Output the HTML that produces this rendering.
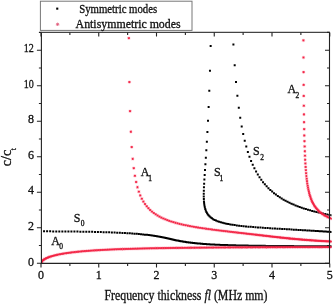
<!DOCTYPE html>
<html><head><meta charset="utf-8"><style>
html,body{margin:0;padding:0;background:#fff;overflow:hidden}
svg{display:block}
text{font-family:"Liberation Serif","DejaVu Serif",serif;fill:#111;stroke:#111;stroke-width:0.3px}
</style></head><body>
<svg width="333" height="304" viewBox="0 0 333 304">
<rect width="333" height="304" fill="#fff"/>
<defs><clipPath id="cp"><rect x="41.4" y="29.4" width="290.1" height="233.99999999999997"/></clipPath>
</defs>
<g clip-path="url(#cp)">
<path d="M43.06,230.35h2.0v2.0h-2.0zM46.11,230.36h2.0v2.0h-2.0zM49.17,230.37h2.0v2.0h-2.0zM52.22,230.38h2.0v2.0h-2.0zM55.27,230.39h2.0v2.0h-2.0zM58.31,230.41h2.0v2.0h-2.0zM61.35,230.43h2.0v2.0h-2.0zM64.38,230.46h2.0v2.0h-2.0zM209.65,44.91h2.0v2.0h-2.0zM67.41,230.49h2.0v2.0h-2.0zM208.96,69.85h2.0v2.0h-2.0zM232.41,43.60h2.0v2.0h-2.0zM70.42,230.52h2.0v2.0h-2.0zM208.29,89.79h2.0v2.0h-2.0zM233.69,64.15h2.0v2.0h-2.0zM73.42,230.55h2.0v2.0h-2.0zM207.63,106.08h2.0v2.0h-2.0zM235.02,80.93h2.0v2.0h-2.0zM76.42,230.59h2.0v2.0h-2.0zM207.01,119.63h2.0v2.0h-2.0zM236.39,94.87h2.0v2.0h-2.0zM79.39,230.64h2.0v2.0h-2.0zM206.41,131.08h2.0v2.0h-2.0zM237.80,106.65h2.0v2.0h-2.0zM82.36,230.68h2.0v2.0h-2.0zM205.85,140.86h2.0v2.0h-2.0zM239.23,116.71h2.0v2.0h-2.0zM85.31,230.73h2.0v2.0h-2.0zM205.33,149.32h2.0v2.0h-2.0zM240.70,125.41h2.0v2.0h-2.0zM88.24,230.79h2.0v2.0h-2.0zM204.84,156.69h2.0v2.0h-2.0zM242.20,133.01h2.0v2.0h-2.0zM91.16,230.85h2.0v2.0h-2.0zM204.41,163.16h2.0v2.0h-2.0zM243.73,139.69h2.0v2.0h-2.0zM94.05,230.92h2.0v2.0h-2.0zM204.01,168.89h2.0v2.0h-2.0zM245.28,145.62h2.0v2.0h-2.0zM96.92,230.99h2.0v2.0h-2.0zM203.67,174.00h2.0v2.0h-2.0zM246.86,150.91h2.0v2.0h-2.0zM99.77,231.06h2.0v2.0h-2.0zM203.38,178.56h2.0v2.0h-2.0zM248.46,155.66h2.0v2.0h-2.0zM102.59,231.15h2.0v2.0h-2.0zM203.14,182.67h2.0v2.0h-2.0zM250.09,159.94h2.0v2.0h-2.0zM105.39,231.23h2.0v2.0h-2.0zM202.95,186.37h2.0v2.0h-2.0zM251.73,163.83h2.0v2.0h-2.0zM108.15,231.33h2.0v2.0h-2.0zM202.83,189.73h2.0v2.0h-2.0zM253.40,167.36h2.0v2.0h-2.0zM110.88,231.43h2.0v2.0h-2.0zM202.76,192.78h2.0v2.0h-2.0zM255.09,170.60h2.0v2.0h-2.0zM113.57,231.53h2.0v2.0h-2.0zM202.76,195.56h2.0v2.0h-2.0zM256.80,173.56h2.0v2.0h-2.0zM116.23,231.65h2.0v2.0h-2.0zM202.83,198.10h2.0v2.0h-2.0zM258.53,176.30h2.0v2.0h-2.0zM118.84,231.77h2.0v2.0h-2.0zM202.96,200.43h2.0v2.0h-2.0zM260.28,178.82h2.0v2.0h-2.0zM121.41,231.89h2.0v2.0h-2.0zM203.17,202.56h2.0v2.0h-2.0zM262.05,181.15h2.0v2.0h-2.0zM123.93,232.03h2.0v2.0h-2.0zM203.45,204.52h2.0v2.0h-2.0zM263.84,183.32h2.0v2.0h-2.0zM126.41,232.18h2.0v2.0h-2.0zM203.81,206.32h2.0v2.0h-2.0zM265.64,185.33h2.0v2.0h-2.0zM128.82,232.33h2.0v2.0h-2.0zM204.25,207.99h2.0v2.0h-2.0zM267.46,187.21h2.0v2.0h-2.0zM131.19,232.49h2.0v2.0h-2.0zM204.78,209.51h2.0v2.0h-2.0zM269.30,188.97h2.0v2.0h-2.0zM133.49,232.66h2.0v2.0h-2.0zM205.38,210.93h2.0v2.0h-2.0zM271.16,190.62h2.0v2.0h-2.0zM135.74,232.84h2.0v2.0h-2.0zM206.08,212.23h2.0v2.0h-2.0zM273.03,192.16h2.0v2.0h-2.0zM137.91,233.02h2.0v2.0h-2.0zM206.87,213.43h2.0v2.0h-2.0zM274.91,193.61h2.0v2.0h-2.0zM140.03,233.22h2.0v2.0h-2.0zM207.75,214.53h2.0v2.0h-2.0zM276.81,194.98h2.0v2.0h-2.0zM142.07,233.42h2.0v2.0h-2.0zM208.72,215.55h2.0v2.0h-2.0zM278.73,196.27h2.0v2.0h-2.0zM144.05,233.63h2.0v2.0h-2.0zM209.79,216.50h2.0v2.0h-2.0zM280.66,197.49h2.0v2.0h-2.0zM145.95,233.85h2.0v2.0h-2.0zM210.95,217.37h2.0v2.0h-2.0zM282.61,198.64h2.0v2.0h-2.0zM147.79,234.08h2.0v2.0h-2.0zM212.21,218.17h2.0v2.0h-2.0zM284.57,199.73h2.0v2.0h-2.0zM149.55,234.31h2.0v2.0h-2.0zM213.56,218.91h2.0v2.0h-2.0zM286.54,200.76h2.0v2.0h-2.0zM151.25,234.55h2.0v2.0h-2.0zM215.00,219.59h2.0v2.0h-2.0zM288.53,201.74h2.0v2.0h-2.0zM152.88,234.79h2.0v2.0h-2.0zM216.53,220.22h2.0v2.0h-2.0zM290.53,202.67h2.0v2.0h-2.0zM154.44,235.04h2.0v2.0h-2.0zM218.15,220.80h2.0v2.0h-2.0zM292.54,203.56h2.0v2.0h-2.0zM155.95,235.29h2.0v2.0h-2.0zM219.84,221.33h2.0v2.0h-2.0zM294.56,204.40h2.0v2.0h-2.0zM157.39,235.55h2.0v2.0h-2.0zM221.62,221.83h2.0v2.0h-2.0zM296.60,205.21h2.0v2.0h-2.0zM158.79,235.81h2.0v2.0h-2.0zM223.47,222.28h2.0v2.0h-2.0zM298.65,205.97h2.0v2.0h-2.0zM160.13,236.08h2.0v2.0h-2.0zM225.39,222.71h2.0v2.0h-2.0zM300.71,206.71h2.0v2.0h-2.0zM161.42,236.34h2.0v2.0h-2.0zM227.38,223.10h2.0v2.0h-2.0zM302.78,207.41h2.0v2.0h-2.0zM162.67,236.60h2.0v2.0h-2.0zM229.42,223.46h2.0v2.0h-2.0zM304.87,208.08h2.0v2.0h-2.0zM163.88,236.86h2.0v2.0h-2.0zM231.53,223.80h2.0v2.0h-2.0zM306.96,208.72h2.0v2.0h-2.0zM165.06,237.11h2.0v2.0h-2.0zM233.68,224.12h2.0v2.0h-2.0zM309.07,209.34h2.0v2.0h-2.0zM166.20,237.36h2.0v2.0h-2.0zM235.87,224.41h2.0v2.0h-2.0zM311.19,209.92h2.0v2.0h-2.0zM167.32,237.61h2.0v2.0h-2.0zM238.11,224.69h2.0v2.0h-2.0zM313.32,210.49h2.0v2.0h-2.0zM168.42,237.85h2.0v2.0h-2.0zM240.38,224.95h2.0v2.0h-2.0zM315.46,211.03h2.0v2.0h-2.0zM169.49,238.09h2.0v2.0h-2.0zM242.69,225.20h2.0v2.0h-2.0zM317.60,211.56h2.0v2.0h-2.0zM170.55,238.33h2.0v2.0h-2.0zM245.02,225.43h2.0v2.0h-2.0zM319.76,212.06h2.0v2.0h-2.0zM171.59,238.55h2.0v2.0h-2.0zM247.38,225.65h2.0v2.0h-2.0zM321.93,212.54h2.0v2.0h-2.0zM172.62,238.78h2.0v2.0h-2.0zM249.76,225.86h2.0v2.0h-2.0zM324.11,213.01h2.0v2.0h-2.0zM173.65,238.99h2.0v2.0h-2.0zM252.15,226.05h2.0v2.0h-2.0zM326.30,213.45h2.0v2.0h-2.0zM174.66,239.20h2.0v2.0h-2.0zM254.56,226.24h2.0v2.0h-2.0zM328.50,213.89h2.0v2.0h-2.0zM175.67,239.41h2.0v2.0h-2.0zM256.98,226.43h2.0v2.0h-2.0zM330.70,214.30h2.0v2.0h-2.0zM176.68,239.61h2.0v2.0h-2.0zM259.40,226.60h2.0v2.0h-2.0zM177.69,239.80h2.0v2.0h-2.0zM261.83,226.77h2.0v2.0h-2.0zM178.69,239.99h2.0v2.0h-2.0zM264.26,226.93h2.0v2.0h-2.0zM179.70,240.17h2.0v2.0h-2.0zM266.69,227.09h2.0v2.0h-2.0zM180.71,240.35h2.0v2.0h-2.0zM269.12,227.24h2.0v2.0h-2.0zM181.72,240.52h2.0v2.0h-2.0zM271.54,227.39h2.0v2.0h-2.0zM182.74,240.68h2.0v2.0h-2.0zM273.96,227.54h2.0v2.0h-2.0zM183.77,240.84h2.0v2.0h-2.0zM276.37,227.69h2.0v2.0h-2.0zM184.79,241.00h2.0v2.0h-2.0zM278.77,227.83h2.0v2.0h-2.0zM185.83,241.15h2.0v2.0h-2.0zM281.15,227.97h2.0v2.0h-2.0zM186.87,241.29h2.0v2.0h-2.0zM283.52,228.10h2.0v2.0h-2.0zM187.92,241.43h2.0v2.0h-2.0zM285.88,228.24h2.0v2.0h-2.0zM188.98,241.57h2.0v2.0h-2.0zM288.22,228.37h2.0v2.0h-2.0zM190.04,241.70h2.0v2.0h-2.0zM290.55,228.51h2.0v2.0h-2.0zM191.12,241.83h2.0v2.0h-2.0zM292.85,228.64h2.0v2.0h-2.0zM192.20,241.95h2.0v2.0h-2.0zM295.13,228.77h2.0v2.0h-2.0zM193.29,242.07h2.0v2.0h-2.0zM297.40,228.90h2.0v2.0h-2.0zM194.39,242.19h2.0v2.0h-2.0zM299.64,229.03h2.0v2.0h-2.0zM195.50,242.30h2.0v2.0h-2.0zM301.86,229.16h2.0v2.0h-2.0zM196.62,242.41h2.0v2.0h-2.0zM304.06,229.29h2.0v2.0h-2.0zM197.75,242.51h2.0v2.0h-2.0zM306.23,229.42h2.0v2.0h-2.0zM198.89,242.61h2.0v2.0h-2.0zM308.37,229.55h2.0v2.0h-2.0zM200.03,242.71h2.0v2.0h-2.0zM310.50,229.68h2.0v2.0h-2.0zM201.19,242.80h2.0v2.0h-2.0zM312.59,229.81h2.0v2.0h-2.0zM202.35,242.89h2.0v2.0h-2.0zM314.67,229.94h2.0v2.0h-2.0zM203.53,242.98h2.0v2.0h-2.0zM316.71,230.07h2.0v2.0h-2.0zM204.71,243.07h2.0v2.0h-2.0zM318.73,230.20h2.0v2.0h-2.0zM205.90,243.15h2.0v2.0h-2.0zM320.72,230.33h2.0v2.0h-2.0zM207.10,243.23h2.0v2.0h-2.0zM322.69,230.46h2.0v2.0h-2.0zM208.31,243.31h2.0v2.0h-2.0zM324.63,230.59h2.0v2.0h-2.0zM209.53,243.39h2.0v2.0h-2.0zM326.54,230.72h2.0v2.0h-2.0zM210.75,243.46h2.0v2.0h-2.0zM328.43,230.85h2.0v2.0h-2.0zM211.99,243.53h2.0v2.0h-2.0zM330.29,230.98h2.0v2.0h-2.0zM213.23,243.60h2.0v2.0h-2.0zM214.48,243.67h2.0v2.0h-2.0zM215.74,243.73h2.0v2.0h-2.0zM217.01,243.79h2.0v2.0h-2.0zM218.28,243.84h2.0v2.0h-2.0zM219.56,243.90h2.0v2.0h-2.0zM220.85,243.94h2.0v2.0h-2.0zM222.15,243.99h2.0v2.0h-2.0zM223.45,244.04h2.0v2.0h-2.0zM224.76,244.08h2.0v2.0h-2.0zM226.08,244.12h2.0v2.0h-2.0zM227.40,244.17h2.0v2.0h-2.0zM228.73,244.21h2.0v2.0h-2.0zM230.07,244.24h2.0v2.0h-2.0zM231.41,244.28h2.0v2.0h-2.0zM232.76,244.32h2.0v2.0h-2.0zM234.12,244.35h2.0v2.0h-2.0zM235.48,244.39h2.0v2.0h-2.0zM236.85,244.42h2.0v2.0h-2.0zM238.22,244.45h2.0v2.0h-2.0zM239.60,244.48h2.0v2.0h-2.0zM240.98,244.51h2.0v2.0h-2.0zM242.37,244.54h2.0v2.0h-2.0zM243.77,244.57h2.0v2.0h-2.0zM245.16,244.59h2.0v2.0h-2.0zM246.57,244.62h2.0v2.0h-2.0zM247.98,244.64h2.0v2.0h-2.0zM249.39,244.67h2.0v2.0h-2.0zM250.81,244.69h2.0v2.0h-2.0zM252.23,244.72h2.0v2.0h-2.0zM253.66,244.74h2.0v2.0h-2.0zM255.09,244.76h2.0v2.0h-2.0zM256.53,244.78h2.0v2.0h-2.0zM257.97,244.80h2.0v2.0h-2.0zM259.41,244.82h2.0v2.0h-2.0zM260.86,244.84h2.0v2.0h-2.0zM262.31,244.86h2.0v2.0h-2.0zM263.76,244.87h2.0v2.0h-2.0zM265.22,244.89h2.0v2.0h-2.0zM266.68,244.91h2.0v2.0h-2.0zM268.15,244.92h2.0v2.0h-2.0zM269.62,244.94h2.0v2.0h-2.0zM271.09,244.95h2.0v2.0h-2.0zM272.57,244.97h2.0v2.0h-2.0zM274.05,244.98h2.0v2.0h-2.0zM275.53,245.00h2.0v2.0h-2.0zM277.01,245.01h2.0v2.0h-2.0zM278.50,245.02h2.0v2.0h-2.0zM279.99,245.04h2.0v2.0h-2.0zM281.48,245.05h2.0v2.0h-2.0zM282.98,245.06h2.0v2.0h-2.0zM284.48,245.07h2.0v2.0h-2.0zM285.98,245.08h2.0v2.0h-2.0zM287.48,245.09h2.0v2.0h-2.0zM288.99,245.10h2.0v2.0h-2.0zM290.50,245.11h2.0v2.0h-2.0zM292.01,245.12h2.0v2.0h-2.0zM293.52,245.13h2.0v2.0h-2.0zM295.04,245.14h2.0v2.0h-2.0zM296.56,245.15h2.0v2.0h-2.0zM298.08,245.16h2.0v2.0h-2.0zM299.60,245.17h2.0v2.0h-2.0zM301.12,245.18h2.0v2.0h-2.0zM302.65,245.19h2.0v2.0h-2.0zM304.18,245.19h2.0v2.0h-2.0zM305.71,245.20h2.0v2.0h-2.0zM307.24,245.21h2.0v2.0h-2.0zM308.78,245.22h2.0v2.0h-2.0zM310.31,245.22h2.0v2.0h-2.0zM311.85,245.23h2.0v2.0h-2.0zM313.39,245.24h2.0v2.0h-2.0zM314.93,245.24h2.0v2.0h-2.0zM316.47,245.25h2.0v2.0h-2.0zM318.02,245.26h2.0v2.0h-2.0zM319.56,245.26h2.0v2.0h-2.0zM321.11,245.27h2.0v2.0h-2.0zM322.66,245.27h2.0v2.0h-2.0zM324.21,245.28h2.0v2.0h-2.0zM325.76,245.28h2.0v2.0h-2.0zM327.32,245.29h2.0v2.0h-2.0zM328.87,245.29h2.0v2.0h-2.0zM330.43,245.30h2.0v2.0h-2.0z" fill="#000"/>
<path d="M39.16,263.03a1.9,1.9 0 1,0 3.8,0a1.9,1.9 0 1,0 -3.8,0zM39.32,262.47a1.9,1.9 0 1,0 3.8,0a1.9,1.9 0 1,0 -3.8,0zM39.59,261.91a1.9,1.9 0 1,0 3.8,0a1.9,1.9 0 1,0 -3.8,0zM39.97,261.36a1.9,1.9 0 1,0 3.8,0a1.9,1.9 0 1,0 -3.8,0zM126.95,38.16a1.9,1.9 0 1,0 3.8,0a1.9,1.9 0 1,0 -3.8,0zM40.46,260.82a1.9,1.9 0 1,0 3.8,0a1.9,1.9 0 1,0 -3.8,0zM127.50,82.06a1.9,1.9 0 1,0 3.8,0a1.9,1.9 0 1,0 -3.8,0zM41.04,260.28a1.9,1.9 0 1,0 3.8,0a1.9,1.9 0 1,0 -3.8,0zM128.16,111.14a1.9,1.9 0 1,0 3.8,0a1.9,1.9 0 1,0 -3.8,0zM41.72,259.77a1.9,1.9 0 1,0 3.8,0a1.9,1.9 0 1,0 -3.8,0zM128.93,131.74a1.9,1.9 0 1,0 3.8,0a1.9,1.9 0 1,0 -3.8,0zM42.49,259.26a1.9,1.9 0 1,0 3.8,0a1.9,1.9 0 1,0 -3.8,0zM129.81,147.06a1.9,1.9 0 1,0 3.8,0a1.9,1.9 0 1,0 -3.8,0zM43.34,258.77a1.9,1.9 0 1,0 3.8,0a1.9,1.9 0 1,0 -3.8,0zM130.79,158.87a1.9,1.9 0 1,0 3.8,0a1.9,1.9 0 1,0 -3.8,0zM44.27,258.30a1.9,1.9 0 1,0 3.8,0a1.9,1.9 0 1,0 -3.8,0zM131.86,168.22a1.9,1.9 0 1,0 3.8,0a1.9,1.9 0 1,0 -3.8,0zM45.28,257.84a1.9,1.9 0 1,0 3.8,0a1.9,1.9 0 1,0 -3.8,0zM133.01,175.78a1.9,1.9 0 1,0 3.8,0a1.9,1.9 0 1,0 -3.8,0zM46.35,257.40a1.9,1.9 0 1,0 3.8,0a1.9,1.9 0 1,0 -3.8,0zM134.25,182.02a1.9,1.9 0 1,0 3.8,0a1.9,1.9 0 1,0 -3.8,0zM301.53,40.40a1.9,1.9 0 1,0 3.8,0a1.9,1.9 0 1,0 -3.8,0zM47.49,256.98a1.9,1.9 0 1,0 3.8,0a1.9,1.9 0 1,0 -3.8,0zM135.57,187.23a1.9,1.9 0 1,0 3.8,0a1.9,1.9 0 1,0 -3.8,0zM301.59,57.49a1.9,1.9 0 1,0 3.8,0a1.9,1.9 0 1,0 -3.8,0zM48.69,256.58a1.9,1.9 0 1,0 3.8,0a1.9,1.9 0 1,0 -3.8,0zM136.95,191.65a1.9,1.9 0 1,0 3.8,0a1.9,1.9 0 1,0 -3.8,0zM301.67,72.14a1.9,1.9 0 1,0 3.8,0a1.9,1.9 0 1,0 -3.8,0zM49.94,256.19a1.9,1.9 0 1,0 3.8,0a1.9,1.9 0 1,0 -3.8,0zM138.41,195.43a1.9,1.9 0 1,0 3.8,0a1.9,1.9 0 1,0 -3.8,0zM301.75,84.83a1.9,1.9 0 1,0 3.8,0a1.9,1.9 0 1,0 -3.8,0zM51.25,255.82a1.9,1.9 0 1,0 3.8,0a1.9,1.9 0 1,0 -3.8,0zM139.92,198.70a1.9,1.9 0 1,0 3.8,0a1.9,1.9 0 1,0 -3.8,0zM301.84,95.92a1.9,1.9 0 1,0 3.8,0a1.9,1.9 0 1,0 -3.8,0zM52.59,255.46a1.9,1.9 0 1,0 3.8,0a1.9,1.9 0 1,0 -3.8,0zM141.49,201.56a1.9,1.9 0 1,0 3.8,0a1.9,1.9 0 1,0 -3.8,0zM301.94,105.71a1.9,1.9 0 1,0 3.8,0a1.9,1.9 0 1,0 -3.8,0zM53.98,255.12a1.9,1.9 0 1,0 3.8,0a1.9,1.9 0 1,0 -3.8,0zM143.12,204.06a1.9,1.9 0 1,0 3.8,0a1.9,1.9 0 1,0 -3.8,0zM302.05,114.40a1.9,1.9 0 1,0 3.8,0a1.9,1.9 0 1,0 -3.8,0zM55.41,254.80a1.9,1.9 0 1,0 3.8,0a1.9,1.9 0 1,0 -3.8,0zM144.79,206.28a1.9,1.9 0 1,0 3.8,0a1.9,1.9 0 1,0 -3.8,0zM302.16,122.18a1.9,1.9 0 1,0 3.8,0a1.9,1.9 0 1,0 -3.8,0zM56.87,254.49a1.9,1.9 0 1,0 3.8,0a1.9,1.9 0 1,0 -3.8,0zM146.51,208.25a1.9,1.9 0 1,0 3.8,0a1.9,1.9 0 1,0 -3.8,0zM302.29,129.17a1.9,1.9 0 1,0 3.8,0a1.9,1.9 0 1,0 -3.8,0zM58.36,254.20a1.9,1.9 0 1,0 3.8,0a1.9,1.9 0 1,0 -3.8,0zM148.26,210.01a1.9,1.9 0 1,0 3.8,0a1.9,1.9 0 1,0 -3.8,0zM302.43,135.49a1.9,1.9 0 1,0 3.8,0a1.9,1.9 0 1,0 -3.8,0zM59.88,253.92a1.9,1.9 0 1,0 3.8,0a1.9,1.9 0 1,0 -3.8,0zM150.06,211.60a1.9,1.9 0 1,0 3.8,0a1.9,1.9 0 1,0 -3.8,0zM302.58,141.23a1.9,1.9 0 1,0 3.8,0a1.9,1.9 0 1,0 -3.8,0zM61.43,253.65a1.9,1.9 0 1,0 3.8,0a1.9,1.9 0 1,0 -3.8,0zM151.89,213.03a1.9,1.9 0 1,0 3.8,0a1.9,1.9 0 1,0 -3.8,0zM302.74,146.47a1.9,1.9 0 1,0 3.8,0a1.9,1.9 0 1,0 -3.8,0zM63.00,253.39a1.9,1.9 0 1,0 3.8,0a1.9,1.9 0 1,0 -3.8,0zM153.75,214.33a1.9,1.9 0 1,0 3.8,0a1.9,1.9 0 1,0 -3.8,0zM302.91,151.26a1.9,1.9 0 1,0 3.8,0a1.9,1.9 0 1,0 -3.8,0zM64.59,253.15a1.9,1.9 0 1,0 3.8,0a1.9,1.9 0 1,0 -3.8,0zM155.63,215.52a1.9,1.9 0 1,0 3.8,0a1.9,1.9 0 1,0 -3.8,0zM303.09,155.67a1.9,1.9 0 1,0 3.8,0a1.9,1.9 0 1,0 -3.8,0zM66.20,252.92a1.9,1.9 0 1,0 3.8,0a1.9,1.9 0 1,0 -3.8,0zM157.55,216.60a1.9,1.9 0 1,0 3.8,0a1.9,1.9 0 1,0 -3.8,0zM303.29,159.73a1.9,1.9 0 1,0 3.8,0a1.9,1.9 0 1,0 -3.8,0zM67.82,252.69a1.9,1.9 0 1,0 3.8,0a1.9,1.9 0 1,0 -3.8,0zM159.49,217.59a1.9,1.9 0 1,0 3.8,0a1.9,1.9 0 1,0 -3.8,0zM303.50,163.48a1.9,1.9 0 1,0 3.8,0a1.9,1.9 0 1,0 -3.8,0zM69.46,252.48a1.9,1.9 0 1,0 3.8,0a1.9,1.9 0 1,0 -3.8,0zM161.44,218.51a1.9,1.9 0 1,0 3.8,0a1.9,1.9 0 1,0 -3.8,0zM303.73,166.97a1.9,1.9 0 1,0 3.8,0a1.9,1.9 0 1,0 -3.8,0zM71.12,252.28a1.9,1.9 0 1,0 3.8,0a1.9,1.9 0 1,0 -3.8,0zM163.42,219.35a1.9,1.9 0 1,0 3.8,0a1.9,1.9 0 1,0 -3.8,0zM303.97,170.20a1.9,1.9 0 1,0 3.8,0a1.9,1.9 0 1,0 -3.8,0zM72.79,252.09a1.9,1.9 0 1,0 3.8,0a1.9,1.9 0 1,0 -3.8,0zM165.41,220.14a1.9,1.9 0 1,0 3.8,0a1.9,1.9 0 1,0 -3.8,0zM304.22,173.22a1.9,1.9 0 1,0 3.8,0a1.9,1.9 0 1,0 -3.8,0zM74.47,251.90a1.9,1.9 0 1,0 3.8,0a1.9,1.9 0 1,0 -3.8,0zM167.42,220.87a1.9,1.9 0 1,0 3.8,0a1.9,1.9 0 1,0 -3.8,0zM304.49,176.04a1.9,1.9 0 1,0 3.8,0a1.9,1.9 0 1,0 -3.8,0zM76.16,251.73a1.9,1.9 0 1,0 3.8,0a1.9,1.9 0 1,0 -3.8,0zM169.44,221.55a1.9,1.9 0 1,0 3.8,0a1.9,1.9 0 1,0 -3.8,0zM304.78,178.67a1.9,1.9 0 1,0 3.8,0a1.9,1.9 0 1,0 -3.8,0zM77.85,251.56a1.9,1.9 0 1,0 3.8,0a1.9,1.9 0 1,0 -3.8,0zM171.47,222.18a1.9,1.9 0 1,0 3.8,0a1.9,1.9 0 1,0 -3.8,0zM305.09,181.14a1.9,1.9 0 1,0 3.8,0a1.9,1.9 0 1,0 -3.8,0zM79.56,251.40a1.9,1.9 0 1,0 3.8,0a1.9,1.9 0 1,0 -3.8,0zM173.52,222.77a1.9,1.9 0 1,0 3.8,0a1.9,1.9 0 1,0 -3.8,0zM305.41,183.46a1.9,1.9 0 1,0 3.8,0a1.9,1.9 0 1,0 -3.8,0zM81.27,251.25a1.9,1.9 0 1,0 3.8,0a1.9,1.9 0 1,0 -3.8,0zM175.57,223.33a1.9,1.9 0 1,0 3.8,0a1.9,1.9 0 1,0 -3.8,0zM305.76,185.64a1.9,1.9 0 1,0 3.8,0a1.9,1.9 0 1,0 -3.8,0zM82.99,251.10a1.9,1.9 0 1,0 3.8,0a1.9,1.9 0 1,0 -3.8,0zM177.62,223.86a1.9,1.9 0 1,0 3.8,0a1.9,1.9 0 1,0 -3.8,0zM306.12,187.69a1.9,1.9 0 1,0 3.8,0a1.9,1.9 0 1,0 -3.8,0zM84.72,250.96a1.9,1.9 0 1,0 3.8,0a1.9,1.9 0 1,0 -3.8,0zM179.68,224.35a1.9,1.9 0 1,0 3.8,0a1.9,1.9 0 1,0 -3.8,0zM306.50,189.63a1.9,1.9 0 1,0 3.8,0a1.9,1.9 0 1,0 -3.8,0zM86.45,250.83a1.9,1.9 0 1,0 3.8,0a1.9,1.9 0 1,0 -3.8,0zM181.75,224.82a1.9,1.9 0 1,0 3.8,0a1.9,1.9 0 1,0 -3.8,0zM306.91,191.46a1.9,1.9 0 1,0 3.8,0a1.9,1.9 0 1,0 -3.8,0zM88.19,250.70a1.9,1.9 0 1,0 3.8,0a1.9,1.9 0 1,0 -3.8,0zM183.81,225.26a1.9,1.9 0 1,0 3.8,0a1.9,1.9 0 1,0 -3.8,0zM307.33,193.19a1.9,1.9 0 1,0 3.8,0a1.9,1.9 0 1,0 -3.8,0zM89.92,250.57a1.9,1.9 0 1,0 3.8,0a1.9,1.9 0 1,0 -3.8,0zM185.88,225.68a1.9,1.9 0 1,0 3.8,0a1.9,1.9 0 1,0 -3.8,0zM307.78,194.83a1.9,1.9 0 1,0 3.8,0a1.9,1.9 0 1,0 -3.8,0zM91.67,250.46a1.9,1.9 0 1,0 3.8,0a1.9,1.9 0 1,0 -3.8,0zM187.94,226.08a1.9,1.9 0 1,0 3.8,0a1.9,1.9 0 1,0 -3.8,0zM308.25,196.38a1.9,1.9 0 1,0 3.8,0a1.9,1.9 0 1,0 -3.8,0zM93.41,250.34a1.9,1.9 0 1,0 3.8,0a1.9,1.9 0 1,0 -3.8,0zM190.01,226.47a1.9,1.9 0 1,0 3.8,0a1.9,1.9 0 1,0 -3.8,0zM308.74,197.85a1.9,1.9 0 1,0 3.8,0a1.9,1.9 0 1,0 -3.8,0zM95.16,250.24a1.9,1.9 0 1,0 3.8,0a1.9,1.9 0 1,0 -3.8,0zM192.07,226.83a1.9,1.9 0 1,0 3.8,0a1.9,1.9 0 1,0 -3.8,0zM309.26,199.25a1.9,1.9 0 1,0 3.8,0a1.9,1.9 0 1,0 -3.8,0zM96.91,250.13a1.9,1.9 0 1,0 3.8,0a1.9,1.9 0 1,0 -3.8,0zM194.13,227.18a1.9,1.9 0 1,0 3.8,0a1.9,1.9 0 1,0 -3.8,0zM309.80,200.58a1.9,1.9 0 1,0 3.8,0a1.9,1.9 0 1,0 -3.8,0zM98.66,250.03a1.9,1.9 0 1,0 3.8,0a1.9,1.9 0 1,0 -3.8,0zM196.18,227.52a1.9,1.9 0 1,0 3.8,0a1.9,1.9 0 1,0 -3.8,0zM310.37,201.85a1.9,1.9 0 1,0 3.8,0a1.9,1.9 0 1,0 -3.8,0zM100.41,249.94a1.9,1.9 0 1,0 3.8,0a1.9,1.9 0 1,0 -3.8,0zM198.22,227.84a1.9,1.9 0 1,0 3.8,0a1.9,1.9 0 1,0 -3.8,0zM310.97,203.05a1.9,1.9 0 1,0 3.8,0a1.9,1.9 0 1,0 -3.8,0zM102.17,249.84a1.9,1.9 0 1,0 3.8,0a1.9,1.9 0 1,0 -3.8,0zM200.26,228.15a1.9,1.9 0 1,0 3.8,0a1.9,1.9 0 1,0 -3.8,0zM311.59,204.20a1.9,1.9 0 1,0 3.8,0a1.9,1.9 0 1,0 -3.8,0zM103.92,249.76a1.9,1.9 0 1,0 3.8,0a1.9,1.9 0 1,0 -3.8,0zM202.29,228.45a1.9,1.9 0 1,0 3.8,0a1.9,1.9 0 1,0 -3.8,0zM312.24,205.29a1.9,1.9 0 1,0 3.8,0a1.9,1.9 0 1,0 -3.8,0zM105.68,249.67a1.9,1.9 0 1,0 3.8,0a1.9,1.9 0 1,0 -3.8,0zM204.30,228.74a1.9,1.9 0 1,0 3.8,0a1.9,1.9 0 1,0 -3.8,0zM312.91,206.33a1.9,1.9 0 1,0 3.8,0a1.9,1.9 0 1,0 -3.8,0zM107.44,249.59a1.9,1.9 0 1,0 3.8,0a1.9,1.9 0 1,0 -3.8,0zM206.31,229.02a1.9,1.9 0 1,0 3.8,0a1.9,1.9 0 1,0 -3.8,0zM313.62,207.33a1.9,1.9 0 1,0 3.8,0a1.9,1.9 0 1,0 -3.8,0zM109.19,249.51a1.9,1.9 0 1,0 3.8,0a1.9,1.9 0 1,0 -3.8,0zM208.31,229.29a1.9,1.9 0 1,0 3.8,0a1.9,1.9 0 1,0 -3.8,0zM314.35,208.28a1.9,1.9 0 1,0 3.8,0a1.9,1.9 0 1,0 -3.8,0zM110.95,249.44a1.9,1.9 0 1,0 3.8,0a1.9,1.9 0 1,0 -3.8,0zM210.29,229.55a1.9,1.9 0 1,0 3.8,0a1.9,1.9 0 1,0 -3.8,0zM315.12,209.18a1.9,1.9 0 1,0 3.8,0a1.9,1.9 0 1,0 -3.8,0zM112.71,249.36a1.9,1.9 0 1,0 3.8,0a1.9,1.9 0 1,0 -3.8,0zM212.26,229.81a1.9,1.9 0 1,0 3.8,0a1.9,1.9 0 1,0 -3.8,0zM315.91,210.05a1.9,1.9 0 1,0 3.8,0a1.9,1.9 0 1,0 -3.8,0zM114.47,249.29a1.9,1.9 0 1,0 3.8,0a1.9,1.9 0 1,0 -3.8,0zM214.21,230.06a1.9,1.9 0 1,0 3.8,0a1.9,1.9 0 1,0 -3.8,0zM316.74,210.88a1.9,1.9 0 1,0 3.8,0a1.9,1.9 0 1,0 -3.8,0zM116.22,249.23a1.9,1.9 0 1,0 3.8,0a1.9,1.9 0 1,0 -3.8,0zM216.15,230.30a1.9,1.9 0 1,0 3.8,0a1.9,1.9 0 1,0 -3.8,0zM317.59,211.67a1.9,1.9 0 1,0 3.8,0a1.9,1.9 0 1,0 -3.8,0zM117.98,249.16a1.9,1.9 0 1,0 3.8,0a1.9,1.9 0 1,0 -3.8,0zM218.08,230.54a1.9,1.9 0 1,0 3.8,0a1.9,1.9 0 1,0 -3.8,0zM318.48,212.43a1.9,1.9 0 1,0 3.8,0a1.9,1.9 0 1,0 -3.8,0zM119.74,249.10a1.9,1.9 0 1,0 3.8,0a1.9,1.9 0 1,0 -3.8,0zM219.98,230.77a1.9,1.9 0 1,0 3.8,0a1.9,1.9 0 1,0 -3.8,0zM319.40,213.16a1.9,1.9 0 1,0 3.8,0a1.9,1.9 0 1,0 -3.8,0zM121.49,249.04a1.9,1.9 0 1,0 3.8,0a1.9,1.9 0 1,0 -3.8,0zM221.87,231.00a1.9,1.9 0 1,0 3.8,0a1.9,1.9 0 1,0 -3.8,0zM320.35,213.86a1.9,1.9 0 1,0 3.8,0a1.9,1.9 0 1,0 -3.8,0zM123.25,248.98a1.9,1.9 0 1,0 3.8,0a1.9,1.9 0 1,0 -3.8,0zM223.74,231.22a1.9,1.9 0 1,0 3.8,0a1.9,1.9 0 1,0 -3.8,0zM321.33,214.52a1.9,1.9 0 1,0 3.8,0a1.9,1.9 0 1,0 -3.8,0zM125.00,248.92a1.9,1.9 0 1,0 3.8,0a1.9,1.9 0 1,0 -3.8,0zM225.59,231.44a1.9,1.9 0 1,0 3.8,0a1.9,1.9 0 1,0 -3.8,0zM322.35,215.16a1.9,1.9 0 1,0 3.8,0a1.9,1.9 0 1,0 -3.8,0zM126.76,248.87a1.9,1.9 0 1,0 3.8,0a1.9,1.9 0 1,0 -3.8,0zM227.42,231.65a1.9,1.9 0 1,0 3.8,0a1.9,1.9 0 1,0 -3.8,0zM323.40,215.77a1.9,1.9 0 1,0 3.8,0a1.9,1.9 0 1,0 -3.8,0zM128.51,248.82a1.9,1.9 0 1,0 3.8,0a1.9,1.9 0 1,0 -3.8,0zM229.23,231.86a1.9,1.9 0 1,0 3.8,0a1.9,1.9 0 1,0 -3.8,0zM324.49,216.36a1.9,1.9 0 1,0 3.8,0a1.9,1.9 0 1,0 -3.8,0zM130.26,248.77a1.9,1.9 0 1,0 3.8,0a1.9,1.9 0 1,0 -3.8,0zM231.02,232.07a1.9,1.9 0 1,0 3.8,0a1.9,1.9 0 1,0 -3.8,0zM325.60,216.93a1.9,1.9 0 1,0 3.8,0a1.9,1.9 0 1,0 -3.8,0zM132.01,248.72a1.9,1.9 0 1,0 3.8,0a1.9,1.9 0 1,0 -3.8,0zM232.79,232.28a1.9,1.9 0 1,0 3.8,0a1.9,1.9 0 1,0 -3.8,0zM326.75,217.47a1.9,1.9 0 1,0 3.8,0a1.9,1.9 0 1,0 -3.8,0zM133.76,248.67a1.9,1.9 0 1,0 3.8,0a1.9,1.9 0 1,0 -3.8,0zM234.54,232.48a1.9,1.9 0 1,0 3.8,0a1.9,1.9 0 1,0 -3.8,0zM327.93,217.98a1.9,1.9 0 1,0 3.8,0a1.9,1.9 0 1,0 -3.8,0zM135.51,248.63a1.9,1.9 0 1,0 3.8,0a1.9,1.9 0 1,0 -3.8,0zM236.27,232.68a1.9,1.9 0 1,0 3.8,0a1.9,1.9 0 1,0 -3.8,0zM329.15,218.48a1.9,1.9 0 1,0 3.8,0a1.9,1.9 0 1,0 -3.8,0zM137.26,248.58a1.9,1.9 0 1,0 3.8,0a1.9,1.9 0 1,0 -3.8,0zM237.98,232.87a1.9,1.9 0 1,0 3.8,0a1.9,1.9 0 1,0 -3.8,0zM330.40,218.96a1.9,1.9 0 1,0 3.8,0a1.9,1.9 0 1,0 -3.8,0zM139.01,248.54a1.9,1.9 0 1,0 3.8,0a1.9,1.9 0 1,0 -3.8,0zM239.66,233.06a1.9,1.9 0 1,0 3.8,0a1.9,1.9 0 1,0 -3.8,0zM331.68,219.42a1.9,1.9 0 1,0 3.8,0a1.9,1.9 0 1,0 -3.8,0zM140.75,248.50a1.9,1.9 0 1,0 3.8,0a1.9,1.9 0 1,0 -3.8,0zM241.33,233.26a1.9,1.9 0 1,0 3.8,0a1.9,1.9 0 1,0 -3.8,0zM142.50,248.46a1.9,1.9 0 1,0 3.8,0a1.9,1.9 0 1,0 -3.8,0zM242.97,233.44a1.9,1.9 0 1,0 3.8,0a1.9,1.9 0 1,0 -3.8,0zM144.24,248.42a1.9,1.9 0 1,0 3.8,0a1.9,1.9 0 1,0 -3.8,0zM244.59,233.63a1.9,1.9 0 1,0 3.8,0a1.9,1.9 0 1,0 -3.8,0zM145.98,248.38a1.9,1.9 0 1,0 3.8,0a1.9,1.9 0 1,0 -3.8,0zM246.19,233.82a1.9,1.9 0 1,0 3.8,0a1.9,1.9 0 1,0 -3.8,0zM147.73,248.35a1.9,1.9 0 1,0 3.8,0a1.9,1.9 0 1,0 -3.8,0zM247.77,234.00a1.9,1.9 0 1,0 3.8,0a1.9,1.9 0 1,0 -3.8,0zM149.47,248.31a1.9,1.9 0 1,0 3.8,0a1.9,1.9 0 1,0 -3.8,0zM249.33,234.18a1.9,1.9 0 1,0 3.8,0a1.9,1.9 0 1,0 -3.8,0zM151.21,248.28a1.9,1.9 0 1,0 3.8,0a1.9,1.9 0 1,0 -3.8,0zM250.86,234.36a1.9,1.9 0 1,0 3.8,0a1.9,1.9 0 1,0 -3.8,0zM152.94,248.24a1.9,1.9 0 1,0 3.8,0a1.9,1.9 0 1,0 -3.8,0zM252.38,234.53a1.9,1.9 0 1,0 3.8,0a1.9,1.9 0 1,0 -3.8,0zM154.68,248.21a1.9,1.9 0 1,0 3.8,0a1.9,1.9 0 1,0 -3.8,0zM253.88,234.71a1.9,1.9 0 1,0 3.8,0a1.9,1.9 0 1,0 -3.8,0zM156.42,248.18a1.9,1.9 0 1,0 3.8,0a1.9,1.9 0 1,0 -3.8,0zM255.36,234.88a1.9,1.9 0 1,0 3.8,0a1.9,1.9 0 1,0 -3.8,0zM158.15,248.15a1.9,1.9 0 1,0 3.8,0a1.9,1.9 0 1,0 -3.8,0zM256.82,235.05a1.9,1.9 0 1,0 3.8,0a1.9,1.9 0 1,0 -3.8,0zM159.88,248.12a1.9,1.9 0 1,0 3.8,0a1.9,1.9 0 1,0 -3.8,0zM258.27,235.22a1.9,1.9 0 1,0 3.8,0a1.9,1.9 0 1,0 -3.8,0zM161.62,248.09a1.9,1.9 0 1,0 3.8,0a1.9,1.9 0 1,0 -3.8,0zM259.69,235.38a1.9,1.9 0 1,0 3.8,0a1.9,1.9 0 1,0 -3.8,0zM163.35,248.07a1.9,1.9 0 1,0 3.8,0a1.9,1.9 0 1,0 -3.8,0zM261.10,235.55a1.9,1.9 0 1,0 3.8,0a1.9,1.9 0 1,0 -3.8,0zM165.08,248.04a1.9,1.9 0 1,0 3.8,0a1.9,1.9 0 1,0 -3.8,0zM262.50,235.71a1.9,1.9 0 1,0 3.8,0a1.9,1.9 0 1,0 -3.8,0zM166.81,248.02a1.9,1.9 0 1,0 3.8,0a1.9,1.9 0 1,0 -3.8,0zM263.88,235.87a1.9,1.9 0 1,0 3.8,0a1.9,1.9 0 1,0 -3.8,0zM168.53,247.99a1.9,1.9 0 1,0 3.8,0a1.9,1.9 0 1,0 -3.8,0zM265.24,236.03a1.9,1.9 0 1,0 3.8,0a1.9,1.9 0 1,0 -3.8,0zM170.26,247.97a1.9,1.9 0 1,0 3.8,0a1.9,1.9 0 1,0 -3.8,0zM266.59,236.18a1.9,1.9 0 1,0 3.8,0a1.9,1.9 0 1,0 -3.8,0zM171.99,247.94a1.9,1.9 0 1,0 3.8,0a1.9,1.9 0 1,0 -3.8,0zM267.93,236.34a1.9,1.9 0 1,0 3.8,0a1.9,1.9 0 1,0 -3.8,0zM173.71,247.92a1.9,1.9 0 1,0 3.8,0a1.9,1.9 0 1,0 -3.8,0zM269.26,236.49a1.9,1.9 0 1,0 3.8,0a1.9,1.9 0 1,0 -3.8,0zM175.43,247.90a1.9,1.9 0 1,0 3.8,0a1.9,1.9 0 1,0 -3.8,0zM270.57,236.64a1.9,1.9 0 1,0 3.8,0a1.9,1.9 0 1,0 -3.8,0zM177.15,247.88a1.9,1.9 0 1,0 3.8,0a1.9,1.9 0 1,0 -3.8,0zM271.87,236.79a1.9,1.9 0 1,0 3.8,0a1.9,1.9 0 1,0 -3.8,0zM178.88,247.85a1.9,1.9 0 1,0 3.8,0a1.9,1.9 0 1,0 -3.8,0zM273.16,236.93a1.9,1.9 0 1,0 3.8,0a1.9,1.9 0 1,0 -3.8,0zM180.60,247.83a1.9,1.9 0 1,0 3.8,0a1.9,1.9 0 1,0 -3.8,0zM274.45,237.08a1.9,1.9 0 1,0 3.8,0a1.9,1.9 0 1,0 -3.8,0zM182.31,247.81a1.9,1.9 0 1,0 3.8,0a1.9,1.9 0 1,0 -3.8,0zM275.72,237.22a1.9,1.9 0 1,0 3.8,0a1.9,1.9 0 1,0 -3.8,0zM184.03,247.79a1.9,1.9 0 1,0 3.8,0a1.9,1.9 0 1,0 -3.8,0zM276.99,237.36a1.9,1.9 0 1,0 3.8,0a1.9,1.9 0 1,0 -3.8,0zM185.75,247.78a1.9,1.9 0 1,0 3.8,0a1.9,1.9 0 1,0 -3.8,0zM278.24,237.49a1.9,1.9 0 1,0 3.8,0a1.9,1.9 0 1,0 -3.8,0zM187.46,247.76a1.9,1.9 0 1,0 3.8,0a1.9,1.9 0 1,0 -3.8,0zM279.49,237.63a1.9,1.9 0 1,0 3.8,0a1.9,1.9 0 1,0 -3.8,0zM189.18,247.74a1.9,1.9 0 1,0 3.8,0a1.9,1.9 0 1,0 -3.8,0zM280.74,237.76a1.9,1.9 0 1,0 3.8,0a1.9,1.9 0 1,0 -3.8,0zM190.89,247.72a1.9,1.9 0 1,0 3.8,0a1.9,1.9 0 1,0 -3.8,0zM281.98,237.89a1.9,1.9 0 1,0 3.8,0a1.9,1.9 0 1,0 -3.8,0zM192.60,247.71a1.9,1.9 0 1,0 3.8,0a1.9,1.9 0 1,0 -3.8,0zM283.21,238.02a1.9,1.9 0 1,0 3.8,0a1.9,1.9 0 1,0 -3.8,0zM194.32,247.69a1.9,1.9 0 1,0 3.8,0a1.9,1.9 0 1,0 -3.8,0zM284.44,238.15a1.9,1.9 0 1,0 3.8,0a1.9,1.9 0 1,0 -3.8,0zM196.03,247.67a1.9,1.9 0 1,0 3.8,0a1.9,1.9 0 1,0 -3.8,0zM285.66,238.27a1.9,1.9 0 1,0 3.8,0a1.9,1.9 0 1,0 -3.8,0zM197.74,247.66a1.9,1.9 0 1,0 3.8,0a1.9,1.9 0 1,0 -3.8,0zM286.88,238.40a1.9,1.9 0 1,0 3.8,0a1.9,1.9 0 1,0 -3.8,0zM199.44,247.64a1.9,1.9 0 1,0 3.8,0a1.9,1.9 0 1,0 -3.8,0zM288.10,238.52a1.9,1.9 0 1,0 3.8,0a1.9,1.9 0 1,0 -3.8,0zM201.15,247.63a1.9,1.9 0 1,0 3.8,0a1.9,1.9 0 1,0 -3.8,0zM289.31,238.64a1.9,1.9 0 1,0 3.8,0a1.9,1.9 0 1,0 -3.8,0zM202.86,247.61a1.9,1.9 0 1,0 3.8,0a1.9,1.9 0 1,0 -3.8,0zM290.53,238.75a1.9,1.9 0 1,0 3.8,0a1.9,1.9 0 1,0 -3.8,0zM204.56,247.60a1.9,1.9 0 1,0 3.8,0a1.9,1.9 0 1,0 -3.8,0zM291.74,238.87a1.9,1.9 0 1,0 3.8,0a1.9,1.9 0 1,0 -3.8,0zM206.27,247.58a1.9,1.9 0 1,0 3.8,0a1.9,1.9 0 1,0 -3.8,0zM292.95,238.98a1.9,1.9 0 1,0 3.8,0a1.9,1.9 0 1,0 -3.8,0zM207.97,247.57a1.9,1.9 0 1,0 3.8,0a1.9,1.9 0 1,0 -3.8,0zM294.15,239.09a1.9,1.9 0 1,0 3.8,0a1.9,1.9 0 1,0 -3.8,0zM209.68,247.56a1.9,1.9 0 1,0 3.8,0a1.9,1.9 0 1,0 -3.8,0zM295.36,239.20a1.9,1.9 0 1,0 3.8,0a1.9,1.9 0 1,0 -3.8,0zM211.38,247.55a1.9,1.9 0 1,0 3.8,0a1.9,1.9 0 1,0 -3.8,0zM296.56,239.31a1.9,1.9 0 1,0 3.8,0a1.9,1.9 0 1,0 -3.8,0zM213.08,247.53a1.9,1.9 0 1,0 3.8,0a1.9,1.9 0 1,0 -3.8,0zM297.77,239.41a1.9,1.9 0 1,0 3.8,0a1.9,1.9 0 1,0 -3.8,0zM214.78,247.52a1.9,1.9 0 1,0 3.8,0a1.9,1.9 0 1,0 -3.8,0zM298.98,239.51a1.9,1.9 0 1,0 3.8,0a1.9,1.9 0 1,0 -3.8,0zM216.48,247.51a1.9,1.9 0 1,0 3.8,0a1.9,1.9 0 1,0 -3.8,0zM300.18,239.62a1.9,1.9 0 1,0 3.8,0a1.9,1.9 0 1,0 -3.8,0zM218.18,247.50a1.9,1.9 0 1,0 3.8,0a1.9,1.9 0 1,0 -3.8,0zM301.39,239.71a1.9,1.9 0 1,0 3.8,0a1.9,1.9 0 1,0 -3.8,0zM219.87,247.49a1.9,1.9 0 1,0 3.8,0a1.9,1.9 0 1,0 -3.8,0zM302.60,239.81a1.9,1.9 0 1,0 3.8,0a1.9,1.9 0 1,0 -3.8,0zM221.57,247.47a1.9,1.9 0 1,0 3.8,0a1.9,1.9 0 1,0 -3.8,0zM303.80,239.91a1.9,1.9 0 1,0 3.8,0a1.9,1.9 0 1,0 -3.8,0zM223.27,247.46a1.9,1.9 0 1,0 3.8,0a1.9,1.9 0 1,0 -3.8,0zM305.01,240.00a1.9,1.9 0 1,0 3.8,0a1.9,1.9 0 1,0 -3.8,0zM224.96,247.45a1.9,1.9 0 1,0 3.8,0a1.9,1.9 0 1,0 -3.8,0zM306.23,240.09a1.9,1.9 0 1,0 3.8,0a1.9,1.9 0 1,0 -3.8,0zM226.66,247.44a1.9,1.9 0 1,0 3.8,0a1.9,1.9 0 1,0 -3.8,0zM307.44,240.18a1.9,1.9 0 1,0 3.8,0a1.9,1.9 0 1,0 -3.8,0zM228.35,247.43a1.9,1.9 0 1,0 3.8,0a1.9,1.9 0 1,0 -3.8,0zM308.66,240.27a1.9,1.9 0 1,0 3.8,0a1.9,1.9 0 1,0 -3.8,0zM230.04,247.42a1.9,1.9 0 1,0 3.8,0a1.9,1.9 0 1,0 -3.8,0zM309.87,240.36a1.9,1.9 0 1,0 3.8,0a1.9,1.9 0 1,0 -3.8,0zM231.73,247.41a1.9,1.9 0 1,0 3.8,0a1.9,1.9 0 1,0 -3.8,0zM311.09,240.45a1.9,1.9 0 1,0 3.8,0a1.9,1.9 0 1,0 -3.8,0zM233.42,247.40a1.9,1.9 0 1,0 3.8,0a1.9,1.9 0 1,0 -3.8,0zM312.32,240.53a1.9,1.9 0 1,0 3.8,0a1.9,1.9 0 1,0 -3.8,0zM235.11,247.40a1.9,1.9 0 1,0 3.8,0a1.9,1.9 0 1,0 -3.8,0zM313.54,240.61a1.9,1.9 0 1,0 3.8,0a1.9,1.9 0 1,0 -3.8,0zM236.80,247.39a1.9,1.9 0 1,0 3.8,0a1.9,1.9 0 1,0 -3.8,0zM314.77,240.69a1.9,1.9 0 1,0 3.8,0a1.9,1.9 0 1,0 -3.8,0zM238.49,247.38a1.9,1.9 0 1,0 3.8,0a1.9,1.9 0 1,0 -3.8,0zM316.00,240.77a1.9,1.9 0 1,0 3.8,0a1.9,1.9 0 1,0 -3.8,0zM240.18,247.37a1.9,1.9 0 1,0 3.8,0a1.9,1.9 0 1,0 -3.8,0zM317.23,240.85a1.9,1.9 0 1,0 3.8,0a1.9,1.9 0 1,0 -3.8,0zM241.87,247.36a1.9,1.9 0 1,0 3.8,0a1.9,1.9 0 1,0 -3.8,0zM318.47,240.93a1.9,1.9 0 1,0 3.8,0a1.9,1.9 0 1,0 -3.8,0zM243.55,247.35a1.9,1.9 0 1,0 3.8,0a1.9,1.9 0 1,0 -3.8,0zM319.71,241.00a1.9,1.9 0 1,0 3.8,0a1.9,1.9 0 1,0 -3.8,0zM245.24,247.34a1.9,1.9 0 1,0 3.8,0a1.9,1.9 0 1,0 -3.8,0zM320.95,241.07a1.9,1.9 0 1,0 3.8,0a1.9,1.9 0 1,0 -3.8,0zM246.92,247.34a1.9,1.9 0 1,0 3.8,0a1.9,1.9 0 1,0 -3.8,0zM322.20,241.15a1.9,1.9 0 1,0 3.8,0a1.9,1.9 0 1,0 -3.8,0zM248.61,247.33a1.9,1.9 0 1,0 3.8,0a1.9,1.9 0 1,0 -3.8,0zM323.45,241.22a1.9,1.9 0 1,0 3.8,0a1.9,1.9 0 1,0 -3.8,0zM250.29,247.32a1.9,1.9 0 1,0 3.8,0a1.9,1.9 0 1,0 -3.8,0zM324.70,241.29a1.9,1.9 0 1,0 3.8,0a1.9,1.9 0 1,0 -3.8,0zM251.98,247.31a1.9,1.9 0 1,0 3.8,0a1.9,1.9 0 1,0 -3.8,0zM325.96,241.36a1.9,1.9 0 1,0 3.8,0a1.9,1.9 0 1,0 -3.8,0zM253.66,247.31a1.9,1.9 0 1,0 3.8,0a1.9,1.9 0 1,0 -3.8,0zM327.22,241.42a1.9,1.9 0 1,0 3.8,0a1.9,1.9 0 1,0 -3.8,0zM255.34,247.30a1.9,1.9 0 1,0 3.8,0a1.9,1.9 0 1,0 -3.8,0zM328.48,241.49a1.9,1.9 0 1,0 3.8,0a1.9,1.9 0 1,0 -3.8,0zM257.02,247.29a1.9,1.9 0 1,0 3.8,0a1.9,1.9 0 1,0 -3.8,0zM329.75,241.55a1.9,1.9 0 1,0 3.8,0a1.9,1.9 0 1,0 -3.8,0zM258.70,247.29a1.9,1.9 0 1,0 3.8,0a1.9,1.9 0 1,0 -3.8,0zM260.38,247.28a1.9,1.9 0 1,0 3.8,0a1.9,1.9 0 1,0 -3.8,0zM262.06,247.27a1.9,1.9 0 1,0 3.8,0a1.9,1.9 0 1,0 -3.8,0zM263.74,247.27a1.9,1.9 0 1,0 3.8,0a1.9,1.9 0 1,0 -3.8,0zM265.41,247.26a1.9,1.9 0 1,0 3.8,0a1.9,1.9 0 1,0 -3.8,0zM267.09,247.26a1.9,1.9 0 1,0 3.8,0a1.9,1.9 0 1,0 -3.8,0zM268.77,247.25a1.9,1.9 0 1,0 3.8,0a1.9,1.9 0 1,0 -3.8,0zM270.44,247.24a1.9,1.9 0 1,0 3.8,0a1.9,1.9 0 1,0 -3.8,0zM272.12,247.24a1.9,1.9 0 1,0 3.8,0a1.9,1.9 0 1,0 -3.8,0zM273.79,247.23a1.9,1.9 0 1,0 3.8,0a1.9,1.9 0 1,0 -3.8,0zM275.47,247.23a1.9,1.9 0 1,0 3.8,0a1.9,1.9 0 1,0 -3.8,0zM277.14,247.22a1.9,1.9 0 1,0 3.8,0a1.9,1.9 0 1,0 -3.8,0zM278.81,247.22a1.9,1.9 0 1,0 3.8,0a1.9,1.9 0 1,0 -3.8,0zM280.48,247.21a1.9,1.9 0 1,0 3.8,0a1.9,1.9 0 1,0 -3.8,0zM282.16,247.21a1.9,1.9 0 1,0 3.8,0a1.9,1.9 0 1,0 -3.8,0zM283.83,247.20a1.9,1.9 0 1,0 3.8,0a1.9,1.9 0 1,0 -3.8,0zM285.50,247.20a1.9,1.9 0 1,0 3.8,0a1.9,1.9 0 1,0 -3.8,0zM287.17,247.19a1.9,1.9 0 1,0 3.8,0a1.9,1.9 0 1,0 -3.8,0zM288.83,247.19a1.9,1.9 0 1,0 3.8,0a1.9,1.9 0 1,0 -3.8,0zM290.50,247.18a1.9,1.9 0 1,0 3.8,0a1.9,1.9 0 1,0 -3.8,0zM292.17,247.18a1.9,1.9 0 1,0 3.8,0a1.9,1.9 0 1,0 -3.8,0zM293.84,247.18a1.9,1.9 0 1,0 3.8,0a1.9,1.9 0 1,0 -3.8,0zM295.51,247.17a1.9,1.9 0 1,0 3.8,0a1.9,1.9 0 1,0 -3.8,0zM297.17,247.17a1.9,1.9 0 1,0 3.8,0a1.9,1.9 0 1,0 -3.8,0zM298.84,247.16a1.9,1.9 0 1,0 3.8,0a1.9,1.9 0 1,0 -3.8,0zM300.50,247.16a1.9,1.9 0 1,0 3.8,0a1.9,1.9 0 1,0 -3.8,0zM302.17,247.16a1.9,1.9 0 1,0 3.8,0a1.9,1.9 0 1,0 -3.8,0zM303.83,247.15a1.9,1.9 0 1,0 3.8,0a1.9,1.9 0 1,0 -3.8,0zM305.50,247.15a1.9,1.9 0 1,0 3.8,0a1.9,1.9 0 1,0 -3.8,0zM307.16,247.15a1.9,1.9 0 1,0 3.8,0a1.9,1.9 0 1,0 -3.8,0zM308.82,247.14a1.9,1.9 0 1,0 3.8,0a1.9,1.9 0 1,0 -3.8,0zM310.48,247.14a1.9,1.9 0 1,0 3.8,0a1.9,1.9 0 1,0 -3.8,0zM312.15,247.14a1.9,1.9 0 1,0 3.8,0a1.9,1.9 0 1,0 -3.8,0zM313.81,247.13a1.9,1.9 0 1,0 3.8,0a1.9,1.9 0 1,0 -3.8,0zM315.47,247.13a1.9,1.9 0 1,0 3.8,0a1.9,1.9 0 1,0 -3.8,0zM317.13,247.13a1.9,1.9 0 1,0 3.8,0a1.9,1.9 0 1,0 -3.8,0zM318.79,247.12a1.9,1.9 0 1,0 3.8,0a1.9,1.9 0 1,0 -3.8,0zM320.45,247.12a1.9,1.9 0 1,0 3.8,0a1.9,1.9 0 1,0 -3.8,0zM322.11,247.12a1.9,1.9 0 1,0 3.8,0a1.9,1.9 0 1,0 -3.8,0zM323.76,247.11a1.9,1.9 0 1,0 3.8,0a1.9,1.9 0 1,0 -3.8,0zM325.42,247.11a1.9,1.9 0 1,0 3.8,0a1.9,1.9 0 1,0 -3.8,0zM327.08,247.11a1.9,1.9 0 1,0 3.8,0a1.9,1.9 0 1,0 -3.8,0zM328.74,247.11a1.9,1.9 0 1,0 3.8,0a1.9,1.9 0 1,0 -3.8,0zM330.39,247.10a1.9,1.9 0 1,0 3.8,0a1.9,1.9 0 1,0 -3.8,0z" fill="#ff90a8" fill-opacity="0.28"/>
<path d="M39.96,263.03h2.2M41.06,261.93v2.2M40.26,262.23l1.6,1.6M40.26,263.83l1.6,-1.6M40.12,262.47h2.2M41.22,261.37v2.2M40.42,261.67l1.6,1.6M40.42,263.27l1.6,-1.6M40.39,261.91h2.2M41.49,260.81v2.2M40.69,261.11l1.6,1.6M40.69,262.71l1.6,-1.6M40.77,261.36h2.2M41.87,260.26v2.2M41.07,260.56l1.6,1.6M41.07,262.16l1.6,-1.6M127.75,38.16h2.2M128.85,37.06v2.2M128.05,37.36l1.6,1.6M128.05,38.96l1.6,-1.6M41.26,260.82h2.2M42.36,259.72v2.2M41.56,260.02l1.6,1.6M41.56,261.62l1.6,-1.6M128.30,82.06h2.2M129.40,80.96v2.2M128.60,81.26l1.6,1.6M128.60,82.86l1.6,-1.6M41.84,260.28h2.2M42.94,259.18v2.2M42.14,259.48l1.6,1.6M42.14,261.08l1.6,-1.6M128.96,111.14h2.2M130.06,110.04v2.2M129.26,110.34l1.6,1.6M129.26,111.94l1.6,-1.6M42.52,259.77h2.2M43.62,258.67v2.2M42.82,258.97l1.6,1.6M42.82,260.57l1.6,-1.6M129.73,131.74h2.2M130.83,130.64v2.2M130.03,130.94l1.6,1.6M130.03,132.54l1.6,-1.6M43.29,259.26h2.2M44.39,258.16v2.2M43.59,258.46l1.6,1.6M43.59,260.06l1.6,-1.6M130.61,147.06h2.2M131.71,145.96v2.2M130.91,146.26l1.6,1.6M130.91,147.86l1.6,-1.6M44.14,258.77h2.2M45.24,257.67v2.2M44.44,257.97l1.6,1.6M44.44,259.57l1.6,-1.6M131.59,158.87h2.2M132.69,157.77v2.2M131.89,158.07l1.6,1.6M131.89,159.67l1.6,-1.6M45.07,258.30h2.2M46.17,257.20v2.2M45.37,257.50l1.6,1.6M45.37,259.10l1.6,-1.6M132.66,168.22h2.2M133.76,167.12v2.2M132.96,167.42l1.6,1.6M132.96,169.02l1.6,-1.6M46.08,257.84h2.2M47.18,256.74v2.2M46.38,257.04l1.6,1.6M46.38,258.64l1.6,-1.6M133.81,175.78h2.2M134.91,174.68v2.2M134.11,174.98l1.6,1.6M134.11,176.58l1.6,-1.6M47.15,257.40h2.2M48.25,256.30v2.2M47.45,256.60l1.6,1.6M47.45,258.20l1.6,-1.6M135.05,182.02h2.2M136.15,180.92v2.2M135.35,181.22l1.6,1.6M135.35,182.82l1.6,-1.6M302.33,40.40h2.2M303.43,39.30v2.2M302.63,39.60l1.6,1.6M302.63,41.20l1.6,-1.6M48.29,256.98h2.2M49.39,255.88v2.2M48.59,256.18l1.6,1.6M48.59,257.78l1.6,-1.6M136.37,187.23h2.2M137.47,186.13v2.2M136.67,186.43l1.6,1.6M136.67,188.03l1.6,-1.6M302.39,57.49h2.2M303.49,56.39v2.2M302.69,56.69l1.6,1.6M302.69,58.29l1.6,-1.6M49.49,256.58h2.2M50.59,255.48v2.2M49.79,255.78l1.6,1.6M49.79,257.38l1.6,-1.6M137.75,191.65h2.2M138.85,190.55v2.2M138.05,190.85l1.6,1.6M138.05,192.45l1.6,-1.6M302.47,72.14h2.2M303.57,71.04v2.2M302.77,71.34l1.6,1.6M302.77,72.94l1.6,-1.6M50.74,256.19h2.2M51.84,255.09v2.2M51.04,255.39l1.6,1.6M51.04,256.99l1.6,-1.6M139.21,195.43h2.2M140.31,194.33v2.2M139.51,194.63l1.6,1.6M139.51,196.23l1.6,-1.6M302.55,84.83h2.2M303.65,83.73v2.2M302.85,84.03l1.6,1.6M302.85,85.63l1.6,-1.6M52.05,255.82h2.2M53.15,254.72v2.2M52.35,255.02l1.6,1.6M52.35,256.62l1.6,-1.6M140.72,198.70h2.2M141.82,197.60v2.2M141.02,197.90l1.6,1.6M141.02,199.50l1.6,-1.6M302.64,95.92h2.2M303.74,94.82v2.2M302.94,95.12l1.6,1.6M302.94,96.72l1.6,-1.6M53.39,255.46h2.2M54.49,254.36v2.2M53.69,254.66l1.6,1.6M53.69,256.26l1.6,-1.6M142.29,201.56h2.2M143.39,200.46v2.2M142.59,200.76l1.6,1.6M142.59,202.36l1.6,-1.6M302.74,105.71h2.2M303.84,104.61v2.2M303.04,104.91l1.6,1.6M303.04,106.51l1.6,-1.6M54.78,255.12h2.2M55.88,254.02v2.2M55.08,254.32l1.6,1.6M55.08,255.92l1.6,-1.6M143.92,204.06h2.2M145.02,202.96v2.2M144.22,203.26l1.6,1.6M144.22,204.86l1.6,-1.6M302.85,114.40h2.2M303.95,113.30v2.2M303.15,113.60l1.6,1.6M303.15,115.20l1.6,-1.6M56.21,254.80h2.2M57.31,253.70v2.2M56.51,254.00l1.6,1.6M56.51,255.60l1.6,-1.6M145.59,206.28h2.2M146.69,205.18v2.2M145.89,205.48l1.6,1.6M145.89,207.08l1.6,-1.6M302.96,122.18h2.2M304.06,121.08v2.2M303.26,121.38l1.6,1.6M303.26,122.98l1.6,-1.6M57.67,254.49h2.2M58.77,253.39v2.2M57.97,253.69l1.6,1.6M57.97,255.29l1.6,-1.6M147.31,208.25h2.2M148.41,207.15v2.2M147.61,207.45l1.6,1.6M147.61,209.05l1.6,-1.6M303.09,129.17h2.2M304.19,128.07v2.2M303.39,128.37l1.6,1.6M303.39,129.97l1.6,-1.6M59.16,254.20h2.2M60.26,253.10v2.2M59.46,253.40l1.6,1.6M59.46,255.00l1.6,-1.6M149.06,210.01h2.2M150.16,208.91v2.2M149.36,209.21l1.6,1.6M149.36,210.81l1.6,-1.6M303.23,135.49h2.2M304.33,134.39v2.2M303.53,134.69l1.6,1.6M303.53,136.29l1.6,-1.6M60.68,253.92h2.2M61.78,252.82v2.2M60.98,253.12l1.6,1.6M60.98,254.72l1.6,-1.6M150.86,211.60h2.2M151.96,210.50v2.2M151.16,210.80l1.6,1.6M151.16,212.40l1.6,-1.6M303.38,141.23h2.2M304.48,140.13v2.2M303.68,140.43l1.6,1.6M303.68,142.03l1.6,-1.6M62.23,253.65h2.2M63.33,252.55v2.2M62.53,252.85l1.6,1.6M62.53,254.45l1.6,-1.6M152.69,213.03h2.2M153.79,211.93v2.2M152.99,212.23l1.6,1.6M152.99,213.83l1.6,-1.6M303.54,146.47h2.2M304.64,145.37v2.2M303.84,145.67l1.6,1.6M303.84,147.27l1.6,-1.6M63.80,253.39h2.2M64.90,252.29v2.2M64.10,252.59l1.6,1.6M64.10,254.19l1.6,-1.6M154.55,214.33h2.2M155.65,213.23v2.2M154.85,213.53l1.6,1.6M154.85,215.13l1.6,-1.6M303.71,151.26h2.2M304.81,150.16v2.2M304.01,150.46l1.6,1.6M304.01,152.06l1.6,-1.6M65.39,253.15h2.2M66.49,252.05v2.2M65.69,252.35l1.6,1.6M65.69,253.95l1.6,-1.6M156.43,215.52h2.2M157.53,214.42v2.2M156.73,214.72l1.6,1.6M156.73,216.32l1.6,-1.6M303.89,155.67h2.2M304.99,154.57v2.2M304.19,154.87l1.6,1.6M304.19,156.47l1.6,-1.6M67.00,252.92h2.2M68.10,251.82v2.2M67.30,252.12l1.6,1.6M67.30,253.72l1.6,-1.6M158.35,216.60h2.2M159.45,215.50v2.2M158.65,215.80l1.6,1.6M158.65,217.40l1.6,-1.6M304.09,159.73h2.2M305.19,158.63v2.2M304.39,158.93l1.6,1.6M304.39,160.53l1.6,-1.6M68.62,252.69h2.2M69.72,251.59v2.2M68.92,251.89l1.6,1.6M68.92,253.49l1.6,-1.6M160.29,217.59h2.2M161.39,216.49v2.2M160.59,216.79l1.6,1.6M160.59,218.39l1.6,-1.6M304.30,163.48h2.2M305.40,162.38v2.2M304.60,162.68l1.6,1.6M304.60,164.28l1.6,-1.6M70.26,252.48h2.2M71.36,251.38v2.2M70.56,251.68l1.6,1.6M70.56,253.28l1.6,-1.6M162.24,218.51h2.2M163.34,217.41v2.2M162.54,217.71l1.6,1.6M162.54,219.31l1.6,-1.6M304.53,166.97h2.2M305.63,165.87v2.2M304.83,166.17l1.6,1.6M304.83,167.77l1.6,-1.6M71.92,252.28h2.2M73.02,251.18v2.2M72.22,251.48l1.6,1.6M72.22,253.08l1.6,-1.6M164.22,219.35h2.2M165.32,218.25v2.2M164.52,218.55l1.6,1.6M164.52,220.15l1.6,-1.6M304.77,170.20h2.2M305.87,169.10v2.2M305.07,169.40l1.6,1.6M305.07,171.00l1.6,-1.6M73.59,252.09h2.2M74.69,250.99v2.2M73.89,251.29l1.6,1.6M73.89,252.89l1.6,-1.6M166.21,220.14h2.2M167.31,219.04v2.2M166.51,219.34l1.6,1.6M166.51,220.94l1.6,-1.6M305.02,173.22h2.2M306.12,172.12v2.2M305.32,172.42l1.6,1.6M305.32,174.02l1.6,-1.6M75.27,251.90h2.2M76.37,250.80v2.2M75.57,251.10l1.6,1.6M75.57,252.70l1.6,-1.6M168.22,220.87h2.2M169.32,219.77v2.2M168.52,220.07l1.6,1.6M168.52,221.67l1.6,-1.6M305.29,176.04h2.2M306.39,174.94v2.2M305.59,175.24l1.6,1.6M305.59,176.84l1.6,-1.6M76.96,251.73h2.2M78.06,250.63v2.2M77.26,250.93l1.6,1.6M77.26,252.53l1.6,-1.6M170.24,221.55h2.2M171.34,220.45v2.2M170.54,220.75l1.6,1.6M170.54,222.35l1.6,-1.6M305.58,178.67h2.2M306.68,177.57v2.2M305.88,177.87l1.6,1.6M305.88,179.47l1.6,-1.6M78.65,251.56h2.2M79.75,250.46v2.2M78.95,250.76l1.6,1.6M78.95,252.36l1.6,-1.6M172.27,222.18h2.2M173.37,221.08v2.2M172.57,221.38l1.6,1.6M172.57,222.98l1.6,-1.6M305.89,181.14h2.2M306.99,180.04v2.2M306.19,180.34l1.6,1.6M306.19,181.94l1.6,-1.6M80.36,251.40h2.2M81.46,250.30v2.2M80.66,250.60l1.6,1.6M80.66,252.20l1.6,-1.6M174.32,222.77h2.2M175.42,221.67v2.2M174.62,221.97l1.6,1.6M174.62,223.57l1.6,-1.6M306.21,183.46h2.2M307.31,182.36v2.2M306.51,182.66l1.6,1.6M306.51,184.26l1.6,-1.6M82.07,251.25h2.2M83.17,250.15v2.2M82.37,250.45l1.6,1.6M82.37,252.05l1.6,-1.6M176.37,223.33h2.2M177.47,222.23v2.2M176.67,222.53l1.6,1.6M176.67,224.13l1.6,-1.6M306.56,185.64h2.2M307.66,184.54v2.2M306.86,184.84l1.6,1.6M306.86,186.44l1.6,-1.6M83.79,251.10h2.2M84.89,250.00v2.2M84.09,250.30l1.6,1.6M84.09,251.90l1.6,-1.6M178.42,223.86h2.2M179.52,222.76v2.2M178.72,223.06l1.6,1.6M178.72,224.66l1.6,-1.6M306.92,187.69h2.2M308.02,186.59v2.2M307.22,186.89l1.6,1.6M307.22,188.49l1.6,-1.6M85.52,250.96h2.2M86.62,249.86v2.2M85.82,250.16l1.6,1.6M85.82,251.76l1.6,-1.6M180.48,224.35h2.2M181.58,223.25v2.2M180.78,223.55l1.6,1.6M180.78,225.15l1.6,-1.6M307.30,189.63h2.2M308.40,188.53v2.2M307.60,188.83l1.6,1.6M307.60,190.43l1.6,-1.6M87.25,250.83h2.2M88.35,249.73v2.2M87.55,250.03l1.6,1.6M87.55,251.63l1.6,-1.6M182.55,224.82h2.2M183.65,223.72v2.2M182.85,224.02l1.6,1.6M182.85,225.62l1.6,-1.6M307.71,191.46h2.2M308.81,190.36v2.2M308.01,190.66l1.6,1.6M308.01,192.26l1.6,-1.6M88.99,250.70h2.2M90.09,249.60v2.2M89.29,249.90l1.6,1.6M89.29,251.50l1.6,-1.6M184.61,225.26h2.2M185.71,224.16v2.2M184.91,224.46l1.6,1.6M184.91,226.06l1.6,-1.6M308.13,193.19h2.2M309.23,192.09v2.2M308.43,192.39l1.6,1.6M308.43,193.99l1.6,-1.6M90.72,250.57h2.2M91.82,249.47v2.2M91.02,249.77l1.6,1.6M91.02,251.37l1.6,-1.6M186.68,225.68h2.2M187.78,224.58v2.2M186.98,224.88l1.6,1.6M186.98,226.48l1.6,-1.6M308.58,194.83h2.2M309.68,193.73v2.2M308.88,194.03l1.6,1.6M308.88,195.63l1.6,-1.6M92.47,250.46h2.2M93.57,249.36v2.2M92.77,249.66l1.6,1.6M92.77,251.26l1.6,-1.6M188.74,226.08h2.2M189.84,224.98v2.2M189.04,225.28l1.6,1.6M189.04,226.88l1.6,-1.6M309.05,196.38h2.2M310.15,195.28v2.2M309.35,195.58l1.6,1.6M309.35,197.18l1.6,-1.6M94.21,250.34h2.2M95.31,249.24v2.2M94.51,249.54l1.6,1.6M94.51,251.14l1.6,-1.6M190.81,226.47h2.2M191.91,225.37v2.2M191.11,225.67l1.6,1.6M191.11,227.27l1.6,-1.6M309.54,197.85h2.2M310.64,196.75v2.2M309.84,197.05l1.6,1.6M309.84,198.65l1.6,-1.6M95.96,250.24h2.2M97.06,249.14v2.2M96.26,249.44l1.6,1.6M96.26,251.04l1.6,-1.6M192.87,226.83h2.2M193.97,225.73v2.2M193.17,226.03l1.6,1.6M193.17,227.63l1.6,-1.6M310.06,199.25h2.2M311.16,198.15v2.2M310.36,198.45l1.6,1.6M310.36,200.05l1.6,-1.6M97.71,250.13h2.2M98.81,249.03v2.2M98.01,249.33l1.6,1.6M98.01,250.93l1.6,-1.6M194.93,227.18h2.2M196.03,226.08v2.2M195.23,226.38l1.6,1.6M195.23,227.98l1.6,-1.6M310.60,200.58h2.2M311.70,199.48v2.2M310.90,199.78l1.6,1.6M310.90,201.38l1.6,-1.6M99.46,250.03h2.2M100.56,248.93v2.2M99.76,249.23l1.6,1.6M99.76,250.83l1.6,-1.6M196.98,227.52h2.2M198.08,226.42v2.2M197.28,226.72l1.6,1.6M197.28,228.32l1.6,-1.6M311.17,201.85h2.2M312.27,200.75v2.2M311.47,201.05l1.6,1.6M311.47,202.65l1.6,-1.6M101.21,249.94h2.2M102.31,248.84v2.2M101.51,249.14l1.6,1.6M101.51,250.74l1.6,-1.6M199.02,227.84h2.2M200.12,226.74v2.2M199.32,227.04l1.6,1.6M199.32,228.64l1.6,-1.6M311.77,203.05h2.2M312.87,201.95v2.2M312.07,202.25l1.6,1.6M312.07,203.85l1.6,-1.6M102.97,249.84h2.2M104.07,248.74v2.2M103.27,249.04l1.6,1.6M103.27,250.64l1.6,-1.6M201.06,228.15h2.2M202.16,227.05v2.2M201.36,227.35l1.6,1.6M201.36,228.95l1.6,-1.6M312.39,204.20h2.2M313.49,203.10v2.2M312.69,203.40l1.6,1.6M312.69,205.00l1.6,-1.6M104.72,249.76h2.2M105.82,248.66v2.2M105.02,248.96l1.6,1.6M105.02,250.56l1.6,-1.6M203.09,228.45h2.2M204.19,227.35v2.2M203.39,227.65l1.6,1.6M203.39,229.25l1.6,-1.6M313.04,205.29h2.2M314.14,204.19v2.2M313.34,204.49l1.6,1.6M313.34,206.09l1.6,-1.6M106.48,249.67h2.2M107.58,248.57v2.2M106.78,248.87l1.6,1.6M106.78,250.47l1.6,-1.6M205.10,228.74h2.2M206.20,227.64v2.2M205.40,227.94l1.6,1.6M205.40,229.54l1.6,-1.6M313.71,206.33h2.2M314.81,205.23v2.2M314.01,205.53l1.6,1.6M314.01,207.13l1.6,-1.6M108.24,249.59h2.2M109.34,248.49v2.2M108.54,248.79l1.6,1.6M108.54,250.39l1.6,-1.6M207.11,229.02h2.2M208.21,227.92v2.2M207.41,228.22l1.6,1.6M207.41,229.82l1.6,-1.6M314.42,207.33h2.2M315.52,206.23v2.2M314.72,206.53l1.6,1.6M314.72,208.13l1.6,-1.6M109.99,249.51h2.2M111.09,248.41v2.2M110.29,248.71l1.6,1.6M110.29,250.31l1.6,-1.6M209.11,229.29h2.2M210.21,228.19v2.2M209.41,228.49l1.6,1.6M209.41,230.09l1.6,-1.6M315.15,208.28h2.2M316.25,207.18v2.2M315.45,207.48l1.6,1.6M315.45,209.08l1.6,-1.6M111.75,249.44h2.2M112.85,248.34v2.2M112.05,248.64l1.6,1.6M112.05,250.24l1.6,-1.6M211.09,229.55h2.2M212.19,228.45v2.2M211.39,228.75l1.6,1.6M211.39,230.35l1.6,-1.6M315.92,209.18h2.2M317.02,208.08v2.2M316.22,208.38l1.6,1.6M316.22,209.98l1.6,-1.6M113.51,249.36h2.2M114.61,248.26v2.2M113.81,248.56l1.6,1.6M113.81,250.16l1.6,-1.6M213.06,229.81h2.2M214.16,228.71v2.2M213.36,229.01l1.6,1.6M213.36,230.61l1.6,-1.6M316.71,210.05h2.2M317.81,208.95v2.2M317.01,209.25l1.6,1.6M317.01,210.85l1.6,-1.6M115.27,249.29h2.2M116.37,248.19v2.2M115.57,248.49l1.6,1.6M115.57,250.09l1.6,-1.6M215.01,230.06h2.2M216.11,228.96v2.2M215.31,229.26l1.6,1.6M215.31,230.86l1.6,-1.6M317.54,210.88h2.2M318.64,209.78v2.2M317.84,210.08l1.6,1.6M317.84,211.68l1.6,-1.6M117.02,249.23h2.2M118.12,248.13v2.2M117.32,248.43l1.6,1.6M117.32,250.03l1.6,-1.6M216.95,230.30h2.2M218.05,229.20v2.2M217.25,229.50l1.6,1.6M217.25,231.10l1.6,-1.6M318.39,211.67h2.2M319.49,210.57v2.2M318.69,210.87l1.6,1.6M318.69,212.47l1.6,-1.6M118.78,249.16h2.2M119.88,248.06v2.2M119.08,248.36l1.6,1.6M119.08,249.96l1.6,-1.6M218.88,230.54h2.2M219.98,229.44v2.2M219.18,229.74l1.6,1.6M219.18,231.34l1.6,-1.6M319.28,212.43h2.2M320.38,211.33v2.2M319.58,211.63l1.6,1.6M319.58,213.23l1.6,-1.6M120.54,249.10h2.2M121.64,248.00v2.2M120.84,248.30l1.6,1.6M120.84,249.90l1.6,-1.6M220.78,230.77h2.2M221.88,229.67v2.2M221.08,229.97l1.6,1.6M221.08,231.57l1.6,-1.6M320.20,213.16h2.2M321.30,212.06v2.2M320.50,212.36l1.6,1.6M320.50,213.96l1.6,-1.6M122.29,249.04h2.2M123.39,247.94v2.2M122.59,248.24l1.6,1.6M122.59,249.84l1.6,-1.6M222.67,231.00h2.2M223.77,229.90v2.2M222.97,230.20l1.6,1.6M222.97,231.80l1.6,-1.6M321.15,213.86h2.2M322.25,212.76v2.2M321.45,213.06l1.6,1.6M321.45,214.66l1.6,-1.6M124.05,248.98h2.2M125.15,247.88v2.2M124.35,248.18l1.6,1.6M124.35,249.78l1.6,-1.6M224.54,231.22h2.2M225.64,230.12v2.2M224.84,230.42l1.6,1.6M224.84,232.02l1.6,-1.6M322.13,214.52h2.2M323.23,213.42v2.2M322.43,213.72l1.6,1.6M322.43,215.32l1.6,-1.6M125.80,248.92h2.2M126.90,247.82v2.2M126.10,248.12l1.6,1.6M126.10,249.72l1.6,-1.6M226.39,231.44h2.2M227.49,230.34v2.2M226.69,230.64l1.6,1.6M226.69,232.24l1.6,-1.6M323.15,215.16h2.2M324.25,214.06v2.2M323.45,214.36l1.6,1.6M323.45,215.96l1.6,-1.6M127.56,248.87h2.2M128.66,247.77v2.2M127.86,248.07l1.6,1.6M127.86,249.67l1.6,-1.6M228.22,231.65h2.2M229.32,230.55v2.2M228.52,230.85l1.6,1.6M228.52,232.45l1.6,-1.6M324.20,215.77h2.2M325.30,214.67v2.2M324.50,214.97l1.6,1.6M324.50,216.57l1.6,-1.6M129.31,248.82h2.2M130.41,247.72v2.2M129.61,248.02l1.6,1.6M129.61,249.62l1.6,-1.6M230.03,231.86h2.2M231.13,230.76v2.2M230.33,231.06l1.6,1.6M230.33,232.66l1.6,-1.6M325.29,216.36h2.2M326.39,215.26v2.2M325.59,215.56l1.6,1.6M325.59,217.16l1.6,-1.6M131.06,248.77h2.2M132.16,247.67v2.2M131.36,247.97l1.6,1.6M131.36,249.57l1.6,-1.6M231.82,232.07h2.2M232.92,230.97v2.2M232.12,231.27l1.6,1.6M232.12,232.87l1.6,-1.6M326.40,216.93h2.2M327.50,215.83v2.2M326.70,216.13l1.6,1.6M326.70,217.73l1.6,-1.6M132.81,248.72h2.2M133.91,247.62v2.2M133.11,247.92l1.6,1.6M133.11,249.52l1.6,-1.6M233.59,232.28h2.2M234.69,231.18v2.2M233.89,231.48l1.6,1.6M233.89,233.08l1.6,-1.6M327.55,217.47h2.2M328.65,216.37v2.2M327.85,216.67l1.6,1.6M327.85,218.27l1.6,-1.6M134.56,248.67h2.2M135.66,247.57v2.2M134.86,247.87l1.6,1.6M134.86,249.47l1.6,-1.6M235.34,232.48h2.2M236.44,231.38v2.2M235.64,231.68l1.6,1.6M235.64,233.28l1.6,-1.6M328.73,217.98h2.2M329.83,216.88v2.2M329.03,217.18l1.6,1.6M329.03,218.78l1.6,-1.6M136.31,248.63h2.2M137.41,247.53v2.2M136.61,247.83l1.6,1.6M136.61,249.43l1.6,-1.6M237.07,232.68h2.2M238.17,231.58v2.2M237.37,231.88l1.6,1.6M237.37,233.48l1.6,-1.6M329.95,218.48h2.2M331.05,217.38v2.2M330.25,217.68l1.6,1.6M330.25,219.28l1.6,-1.6M138.06,248.58h2.2M139.16,247.48v2.2M138.36,247.78l1.6,1.6M138.36,249.38l1.6,-1.6M238.78,232.87h2.2M239.88,231.77v2.2M239.08,232.07l1.6,1.6M239.08,233.67l1.6,-1.6M331.20,218.96h2.2M332.30,217.86v2.2M331.50,218.16l1.6,1.6M331.50,219.76l1.6,-1.6M139.81,248.54h2.2M140.91,247.44v2.2M140.11,247.74l1.6,1.6M140.11,249.34l1.6,-1.6M240.46,233.06h2.2M241.56,231.96v2.2M240.76,232.26l1.6,1.6M240.76,233.86l1.6,-1.6M332.48,219.42h2.2M333.58,218.32v2.2M332.78,218.62l1.6,1.6M332.78,220.22l1.6,-1.6M141.55,248.50h2.2M142.65,247.40v2.2M141.85,247.70l1.6,1.6M141.85,249.30l1.6,-1.6M242.13,233.26h2.2M243.23,232.16v2.2M242.43,232.46l1.6,1.6M242.43,234.06l1.6,-1.6M143.30,248.46h2.2M144.40,247.36v2.2M143.60,247.66l1.6,1.6M143.60,249.26l1.6,-1.6M243.77,233.44h2.2M244.87,232.34v2.2M244.07,232.64l1.6,1.6M244.07,234.24l1.6,-1.6M145.04,248.42h2.2M146.14,247.32v2.2M145.34,247.62l1.6,1.6M145.34,249.22l1.6,-1.6M245.39,233.63h2.2M246.49,232.53v2.2M245.69,232.83l1.6,1.6M245.69,234.43l1.6,-1.6M146.78,248.38h2.2M147.88,247.28v2.2M147.08,247.58l1.6,1.6M147.08,249.18l1.6,-1.6M246.99,233.82h2.2M248.09,232.72v2.2M247.29,233.02l1.6,1.6M247.29,234.62l1.6,-1.6M148.53,248.35h2.2M149.63,247.25v2.2M148.83,247.55l1.6,1.6M148.83,249.15l1.6,-1.6M248.57,234.00h2.2M249.67,232.90v2.2M248.87,233.20l1.6,1.6M248.87,234.80l1.6,-1.6M150.27,248.31h2.2M151.37,247.21v2.2M150.57,247.51l1.6,1.6M150.57,249.11l1.6,-1.6M250.13,234.18h2.2M251.23,233.08v2.2M250.43,233.38l1.6,1.6M250.43,234.98l1.6,-1.6M152.01,248.28h2.2M153.11,247.18v2.2M152.31,247.48l1.6,1.6M152.31,249.08l1.6,-1.6M251.66,234.36h2.2M252.76,233.26v2.2M251.96,233.56l1.6,1.6M251.96,235.16l1.6,-1.6M153.74,248.24h2.2M154.84,247.14v2.2M154.04,247.44l1.6,1.6M154.04,249.04l1.6,-1.6M253.18,234.53h2.2M254.28,233.43v2.2M253.48,233.73l1.6,1.6M253.48,235.33l1.6,-1.6M155.48,248.21h2.2M156.58,247.11v2.2M155.78,247.41l1.6,1.6M155.78,249.01l1.6,-1.6M254.68,234.71h2.2M255.78,233.61v2.2M254.98,233.91l1.6,1.6M254.98,235.51l1.6,-1.6M157.22,248.18h2.2M158.32,247.08v2.2M157.52,247.38l1.6,1.6M157.52,248.98l1.6,-1.6M256.16,234.88h2.2M257.26,233.78v2.2M256.46,234.08l1.6,1.6M256.46,235.68l1.6,-1.6M158.95,248.15h2.2M160.05,247.05v2.2M159.25,247.35l1.6,1.6M159.25,248.95l1.6,-1.6M257.62,235.05h2.2M258.72,233.95v2.2M257.92,234.25l1.6,1.6M257.92,235.85l1.6,-1.6M160.68,248.12h2.2M161.78,247.02v2.2M160.98,247.32l1.6,1.6M160.98,248.92l1.6,-1.6M259.07,235.22h2.2M260.17,234.12v2.2M259.37,234.42l1.6,1.6M259.37,236.02l1.6,-1.6M162.42,248.09h2.2M163.52,246.99v2.2M162.72,247.29l1.6,1.6M162.72,248.89l1.6,-1.6M260.49,235.38h2.2M261.59,234.28v2.2M260.79,234.58l1.6,1.6M260.79,236.18l1.6,-1.6M164.15,248.07h2.2M165.25,246.97v2.2M164.45,247.27l1.6,1.6M164.45,248.87l1.6,-1.6M261.90,235.55h2.2M263.00,234.45v2.2M262.20,234.75l1.6,1.6M262.20,236.35l1.6,-1.6M165.88,248.04h2.2M166.98,246.94v2.2M166.18,247.24l1.6,1.6M166.18,248.84l1.6,-1.6M263.30,235.71h2.2M264.40,234.61v2.2M263.60,234.91l1.6,1.6M263.60,236.51l1.6,-1.6M167.61,248.02h2.2M168.71,246.92v2.2M167.91,247.22l1.6,1.6M167.91,248.82l1.6,-1.6M264.68,235.87h2.2M265.78,234.77v2.2M264.98,235.07l1.6,1.6M264.98,236.67l1.6,-1.6M169.33,247.99h2.2M170.43,246.89v2.2M169.63,247.19l1.6,1.6M169.63,248.79l1.6,-1.6M266.04,236.03h2.2M267.14,234.93v2.2M266.34,235.23l1.6,1.6M266.34,236.83l1.6,-1.6M171.06,247.97h2.2M172.16,246.87v2.2M171.36,247.17l1.6,1.6M171.36,248.77l1.6,-1.6M267.39,236.18h2.2M268.49,235.08v2.2M267.69,235.38l1.6,1.6M267.69,236.98l1.6,-1.6M172.79,247.94h2.2M173.89,246.84v2.2M173.09,247.14l1.6,1.6M173.09,248.74l1.6,-1.6M268.73,236.34h2.2M269.83,235.24v2.2M269.03,235.54l1.6,1.6M269.03,237.14l1.6,-1.6M174.51,247.92h2.2M175.61,246.82v2.2M174.81,247.12l1.6,1.6M174.81,248.72l1.6,-1.6M270.06,236.49h2.2M271.16,235.39v2.2M270.36,235.69l1.6,1.6M270.36,237.29l1.6,-1.6M176.23,247.90h2.2M177.33,246.80v2.2M176.53,247.10l1.6,1.6M176.53,248.70l1.6,-1.6M271.37,236.64h2.2M272.47,235.54v2.2M271.67,235.84l1.6,1.6M271.67,237.44l1.6,-1.6M177.95,247.88h2.2M179.05,246.78v2.2M178.25,247.08l1.6,1.6M178.25,248.68l1.6,-1.6M272.67,236.79h2.2M273.77,235.69v2.2M272.97,235.99l1.6,1.6M272.97,237.59l1.6,-1.6M179.68,247.85h2.2M180.78,246.75v2.2M179.98,247.05l1.6,1.6M179.98,248.65l1.6,-1.6M273.96,236.93h2.2M275.06,235.83v2.2M274.26,236.13l1.6,1.6M274.26,237.73l1.6,-1.6M181.40,247.83h2.2M182.50,246.73v2.2M181.70,247.03l1.6,1.6M181.70,248.63l1.6,-1.6M275.25,237.08h2.2M276.35,235.98v2.2M275.55,236.28l1.6,1.6M275.55,237.88l1.6,-1.6M183.11,247.81h2.2M184.21,246.71v2.2M183.41,247.01l1.6,1.6M183.41,248.61l1.6,-1.6M276.52,237.22h2.2M277.62,236.12v2.2M276.82,236.42l1.6,1.6M276.82,238.02l1.6,-1.6M184.83,247.79h2.2M185.93,246.69v2.2M185.13,246.99l1.6,1.6M185.13,248.59l1.6,-1.6M277.79,237.36h2.2M278.89,236.26v2.2M278.09,236.56l1.6,1.6M278.09,238.16l1.6,-1.6M186.55,247.78h2.2M187.65,246.68v2.2M186.85,246.98l1.6,1.6M186.85,248.58l1.6,-1.6M279.04,237.49h2.2M280.14,236.39v2.2M279.34,236.69l1.6,1.6M279.34,238.29l1.6,-1.6M188.26,247.76h2.2M189.36,246.66v2.2M188.56,246.96l1.6,1.6M188.56,248.56l1.6,-1.6M280.29,237.63h2.2M281.39,236.53v2.2M280.59,236.83l1.6,1.6M280.59,238.43l1.6,-1.6M189.98,247.74h2.2M191.08,246.64v2.2M190.28,246.94l1.6,1.6M190.28,248.54l1.6,-1.6M281.54,237.76h2.2M282.64,236.66v2.2M281.84,236.96l1.6,1.6M281.84,238.56l1.6,-1.6M191.69,247.72h2.2M192.79,246.62v2.2M191.99,246.92l1.6,1.6M191.99,248.52l1.6,-1.6M282.78,237.89h2.2M283.88,236.79v2.2M283.08,237.09l1.6,1.6M283.08,238.69l1.6,-1.6M193.40,247.71h2.2M194.50,246.61v2.2M193.70,246.91l1.6,1.6M193.70,248.51l1.6,-1.6M284.01,238.02h2.2M285.11,236.92v2.2M284.31,237.22l1.6,1.6M284.31,238.82l1.6,-1.6M195.12,247.69h2.2M196.22,246.59v2.2M195.42,246.89l1.6,1.6M195.42,248.49l1.6,-1.6M285.24,238.15h2.2M286.34,237.05v2.2M285.54,237.35l1.6,1.6M285.54,238.95l1.6,-1.6M196.83,247.67h2.2M197.93,246.57v2.2M197.13,246.87l1.6,1.6M197.13,248.47l1.6,-1.6M286.46,238.27h2.2M287.56,237.17v2.2M286.76,237.47l1.6,1.6M286.76,239.07l1.6,-1.6M198.54,247.66h2.2M199.64,246.56v2.2M198.84,246.86l1.6,1.6M198.84,248.46l1.6,-1.6M287.68,238.40h2.2M288.78,237.30v2.2M287.98,237.60l1.6,1.6M287.98,239.20l1.6,-1.6M200.24,247.64h2.2M201.34,246.54v2.2M200.54,246.84l1.6,1.6M200.54,248.44l1.6,-1.6M288.90,238.52h2.2M290.00,237.42v2.2M289.20,237.72l1.6,1.6M289.20,239.32l1.6,-1.6M201.95,247.63h2.2M203.05,246.53v2.2M202.25,246.83l1.6,1.6M202.25,248.43l1.6,-1.6M290.11,238.64h2.2M291.21,237.54v2.2M290.41,237.84l1.6,1.6M290.41,239.44l1.6,-1.6M203.66,247.61h2.2M204.76,246.51v2.2M203.96,246.81l1.6,1.6M203.96,248.41l1.6,-1.6M291.33,238.75h2.2M292.43,237.65v2.2M291.63,237.95l1.6,1.6M291.63,239.55l1.6,-1.6M205.36,247.60h2.2M206.46,246.50v2.2M205.66,246.80l1.6,1.6M205.66,248.40l1.6,-1.6M292.54,238.87h2.2M293.64,237.77v2.2M292.84,238.07l1.6,1.6M292.84,239.67l1.6,-1.6M207.07,247.58h2.2M208.17,246.48v2.2M207.37,246.78l1.6,1.6M207.37,248.38l1.6,-1.6M293.75,238.98h2.2M294.85,237.88v2.2M294.05,238.18l1.6,1.6M294.05,239.78l1.6,-1.6M208.77,247.57h2.2M209.87,246.47v2.2M209.07,246.77l1.6,1.6M209.07,248.37l1.6,-1.6M294.95,239.09h2.2M296.05,237.99v2.2M295.25,238.29l1.6,1.6M295.25,239.89l1.6,-1.6M210.48,247.56h2.2M211.58,246.46v2.2M210.78,246.76l1.6,1.6M210.78,248.36l1.6,-1.6M296.16,239.20h2.2M297.26,238.10v2.2M296.46,238.40l1.6,1.6M296.46,240.00l1.6,-1.6M212.18,247.55h2.2M213.28,246.45v2.2M212.48,246.75l1.6,1.6M212.48,248.35l1.6,-1.6M297.36,239.31h2.2M298.46,238.21v2.2M297.66,238.51l1.6,1.6M297.66,240.11l1.6,-1.6M213.88,247.53h2.2M214.98,246.43v2.2M214.18,246.73l1.6,1.6M214.18,248.33l1.6,-1.6M298.57,239.41h2.2M299.67,238.31v2.2M298.87,238.61l1.6,1.6M298.87,240.21l1.6,-1.6M215.58,247.52h2.2M216.68,246.42v2.2M215.88,246.72l1.6,1.6M215.88,248.32l1.6,-1.6M299.78,239.51h2.2M300.88,238.41v2.2M300.08,238.71l1.6,1.6M300.08,240.31l1.6,-1.6M217.28,247.51h2.2M218.38,246.41v2.2M217.58,246.71l1.6,1.6M217.58,248.31l1.6,-1.6M300.98,239.62h2.2M302.08,238.52v2.2M301.28,238.82l1.6,1.6M301.28,240.42l1.6,-1.6M218.98,247.50h2.2M220.08,246.40v2.2M219.28,246.70l1.6,1.6M219.28,248.30l1.6,-1.6M302.19,239.71h2.2M303.29,238.61v2.2M302.49,238.91l1.6,1.6M302.49,240.51l1.6,-1.6M220.67,247.49h2.2M221.77,246.39v2.2M220.97,246.69l1.6,1.6M220.97,248.29l1.6,-1.6M303.40,239.81h2.2M304.50,238.71v2.2M303.70,239.01l1.6,1.6M303.70,240.61l1.6,-1.6M222.37,247.47h2.2M223.47,246.37v2.2M222.67,246.67l1.6,1.6M222.67,248.27l1.6,-1.6M304.60,239.91h2.2M305.70,238.81v2.2M304.90,239.11l1.6,1.6M304.90,240.71l1.6,-1.6M224.07,247.46h2.2M225.17,246.36v2.2M224.37,246.66l1.6,1.6M224.37,248.26l1.6,-1.6M305.81,240.00h2.2M306.91,238.90v2.2M306.11,239.20l1.6,1.6M306.11,240.80l1.6,-1.6M225.76,247.45h2.2M226.86,246.35v2.2M226.06,246.65l1.6,1.6M226.06,248.25l1.6,-1.6M307.03,240.09h2.2M308.13,238.99v2.2M307.33,239.29l1.6,1.6M307.33,240.89l1.6,-1.6M227.46,247.44h2.2M228.56,246.34v2.2M227.76,246.64l1.6,1.6M227.76,248.24l1.6,-1.6M308.24,240.18h2.2M309.34,239.08v2.2M308.54,239.38l1.6,1.6M308.54,240.98l1.6,-1.6M229.15,247.43h2.2M230.25,246.33v2.2M229.45,246.63l1.6,1.6M229.45,248.23l1.6,-1.6M309.46,240.27h2.2M310.56,239.17v2.2M309.76,239.47l1.6,1.6M309.76,241.07l1.6,-1.6M230.84,247.42h2.2M231.94,246.32v2.2M231.14,246.62l1.6,1.6M231.14,248.22l1.6,-1.6M310.67,240.36h2.2M311.77,239.26v2.2M310.97,239.56l1.6,1.6M310.97,241.16l1.6,-1.6M232.53,247.41h2.2M233.63,246.31v2.2M232.83,246.61l1.6,1.6M232.83,248.21l1.6,-1.6M311.89,240.45h2.2M312.99,239.35v2.2M312.19,239.65l1.6,1.6M312.19,241.25l1.6,-1.6M234.22,247.40h2.2M235.32,246.30v2.2M234.52,246.60l1.6,1.6M234.52,248.20l1.6,-1.6M313.12,240.53h2.2M314.22,239.43v2.2M313.42,239.73l1.6,1.6M313.42,241.33l1.6,-1.6M235.91,247.40h2.2M237.01,246.30v2.2M236.21,246.60l1.6,1.6M236.21,248.20l1.6,-1.6M314.34,240.61h2.2M315.44,239.51v2.2M314.64,239.81l1.6,1.6M314.64,241.41l1.6,-1.6M237.60,247.39h2.2M238.70,246.29v2.2M237.90,246.59l1.6,1.6M237.90,248.19l1.6,-1.6M315.57,240.69h2.2M316.67,239.59v2.2M315.87,239.89l1.6,1.6M315.87,241.49l1.6,-1.6M239.29,247.38h2.2M240.39,246.28v2.2M239.59,246.58l1.6,1.6M239.59,248.18l1.6,-1.6M316.80,240.77h2.2M317.90,239.67v2.2M317.10,239.97l1.6,1.6M317.10,241.57l1.6,-1.6M240.98,247.37h2.2M242.08,246.27v2.2M241.28,246.57l1.6,1.6M241.28,248.17l1.6,-1.6M318.03,240.85h2.2M319.13,239.75v2.2M318.33,240.05l1.6,1.6M318.33,241.65l1.6,-1.6M242.67,247.36h2.2M243.77,246.26v2.2M242.97,246.56l1.6,1.6M242.97,248.16l1.6,-1.6M319.27,240.93h2.2M320.37,239.83v2.2M319.57,240.13l1.6,1.6M319.57,241.73l1.6,-1.6M244.35,247.35h2.2M245.45,246.25v2.2M244.65,246.55l1.6,1.6M244.65,248.15l1.6,-1.6M320.51,241.00h2.2M321.61,239.90v2.2M320.81,240.20l1.6,1.6M320.81,241.80l1.6,-1.6M246.04,247.34h2.2M247.14,246.24v2.2M246.34,246.54l1.6,1.6M246.34,248.14l1.6,-1.6M321.75,241.07h2.2M322.85,239.97v2.2M322.05,240.27l1.6,1.6M322.05,241.87l1.6,-1.6M247.72,247.34h2.2M248.82,246.24v2.2M248.02,246.54l1.6,1.6M248.02,248.14l1.6,-1.6M323.00,241.15h2.2M324.10,240.05v2.2M323.30,240.35l1.6,1.6M323.30,241.95l1.6,-1.6M249.41,247.33h2.2M250.51,246.23v2.2M249.71,246.53l1.6,1.6M249.71,248.13l1.6,-1.6M324.25,241.22h2.2M325.35,240.12v2.2M324.55,240.42l1.6,1.6M324.55,242.02l1.6,-1.6M251.09,247.32h2.2M252.19,246.22v2.2M251.39,246.52l1.6,1.6M251.39,248.12l1.6,-1.6M325.50,241.29h2.2M326.60,240.19v2.2M325.80,240.49l1.6,1.6M325.80,242.09l1.6,-1.6M252.78,247.31h2.2M253.88,246.21v2.2M253.08,246.51l1.6,1.6M253.08,248.11l1.6,-1.6M326.76,241.36h2.2M327.86,240.26v2.2M327.06,240.56l1.6,1.6M327.06,242.16l1.6,-1.6M254.46,247.31h2.2M255.56,246.21v2.2M254.76,246.51l1.6,1.6M254.76,248.11l1.6,-1.6M328.02,241.42h2.2M329.12,240.32v2.2M328.32,240.62l1.6,1.6M328.32,242.22l1.6,-1.6M256.14,247.30h2.2M257.24,246.20v2.2M256.44,246.50l1.6,1.6M256.44,248.10l1.6,-1.6M329.28,241.49h2.2M330.38,240.39v2.2M329.58,240.69l1.6,1.6M329.58,242.29l1.6,-1.6M257.82,247.29h2.2M258.92,246.19v2.2M258.12,246.49l1.6,1.6M258.12,248.09l1.6,-1.6M330.55,241.55h2.2M331.65,240.45v2.2M330.85,240.75l1.6,1.6M330.85,242.35l1.6,-1.6M259.50,247.29h2.2M260.60,246.19v2.2M259.80,246.49l1.6,1.6M259.80,248.09l1.6,-1.6M261.18,247.28h2.2M262.28,246.18v2.2M261.48,246.48l1.6,1.6M261.48,248.08l1.6,-1.6M262.86,247.27h2.2M263.96,246.17v2.2M263.16,246.47l1.6,1.6M263.16,248.07l1.6,-1.6M264.54,247.27h2.2M265.64,246.17v2.2M264.84,246.47l1.6,1.6M264.84,248.07l1.6,-1.6M266.21,247.26h2.2M267.31,246.16v2.2M266.51,246.46l1.6,1.6M266.51,248.06l1.6,-1.6M267.89,247.26h2.2M268.99,246.16v2.2M268.19,246.46l1.6,1.6M268.19,248.06l1.6,-1.6M269.57,247.25h2.2M270.67,246.15v2.2M269.87,246.45l1.6,1.6M269.87,248.05l1.6,-1.6M271.24,247.24h2.2M272.34,246.14v2.2M271.54,246.44l1.6,1.6M271.54,248.04l1.6,-1.6M272.92,247.24h2.2M274.02,246.14v2.2M273.22,246.44l1.6,1.6M273.22,248.04l1.6,-1.6M274.59,247.23h2.2M275.69,246.13v2.2M274.89,246.43l1.6,1.6M274.89,248.03l1.6,-1.6M276.27,247.23h2.2M277.37,246.13v2.2M276.57,246.43l1.6,1.6M276.57,248.03l1.6,-1.6M277.94,247.22h2.2M279.04,246.12v2.2M278.24,246.42l1.6,1.6M278.24,248.02l1.6,-1.6M279.61,247.22h2.2M280.71,246.12v2.2M279.91,246.42l1.6,1.6M279.91,248.02l1.6,-1.6M281.28,247.21h2.2M282.38,246.11v2.2M281.58,246.41l1.6,1.6M281.58,248.01l1.6,-1.6M282.96,247.21h2.2M284.06,246.11v2.2M283.26,246.41l1.6,1.6M283.26,248.01l1.6,-1.6M284.63,247.20h2.2M285.73,246.10v2.2M284.93,246.40l1.6,1.6M284.93,248.00l1.6,-1.6M286.30,247.20h2.2M287.40,246.10v2.2M286.60,246.40l1.6,1.6M286.60,248.00l1.6,-1.6M287.97,247.19h2.2M289.07,246.09v2.2M288.27,246.39l1.6,1.6M288.27,247.99l1.6,-1.6M289.63,247.19h2.2M290.73,246.09v2.2M289.93,246.39l1.6,1.6M289.93,247.99l1.6,-1.6M291.30,247.18h2.2M292.40,246.08v2.2M291.60,246.38l1.6,1.6M291.60,247.98l1.6,-1.6M292.97,247.18h2.2M294.07,246.08v2.2M293.27,246.38l1.6,1.6M293.27,247.98l1.6,-1.6M294.64,247.18h2.2M295.74,246.08v2.2M294.94,246.38l1.6,1.6M294.94,247.98l1.6,-1.6M296.31,247.17h2.2M297.41,246.07v2.2M296.61,246.37l1.6,1.6M296.61,247.97l1.6,-1.6M297.97,247.17h2.2M299.07,246.07v2.2M298.27,246.37l1.6,1.6M298.27,247.97l1.6,-1.6M299.64,247.16h2.2M300.74,246.06v2.2M299.94,246.36l1.6,1.6M299.94,247.96l1.6,-1.6M301.30,247.16h2.2M302.40,246.06v2.2M301.60,246.36l1.6,1.6M301.60,247.96l1.6,-1.6M302.97,247.16h2.2M304.07,246.06v2.2M303.27,246.36l1.6,1.6M303.27,247.96l1.6,-1.6M304.63,247.15h2.2M305.73,246.05v2.2M304.93,246.35l1.6,1.6M304.93,247.95l1.6,-1.6M306.30,247.15h2.2M307.40,246.05v2.2M306.60,246.35l1.6,1.6M306.60,247.95l1.6,-1.6M307.96,247.15h2.2M309.06,246.05v2.2M308.26,246.35l1.6,1.6M308.26,247.95l1.6,-1.6M309.62,247.14h2.2M310.72,246.04v2.2M309.92,246.34l1.6,1.6M309.92,247.94l1.6,-1.6M311.28,247.14h2.2M312.38,246.04v2.2M311.58,246.34l1.6,1.6M311.58,247.94l1.6,-1.6M312.95,247.14h2.2M314.05,246.04v2.2M313.25,246.34l1.6,1.6M313.25,247.94l1.6,-1.6M314.61,247.13h2.2M315.71,246.03v2.2M314.91,246.33l1.6,1.6M314.91,247.93l1.6,-1.6M316.27,247.13h2.2M317.37,246.03v2.2M316.57,246.33l1.6,1.6M316.57,247.93l1.6,-1.6M317.93,247.13h2.2M319.03,246.03v2.2M318.23,246.33l1.6,1.6M318.23,247.93l1.6,-1.6M319.59,247.12h2.2M320.69,246.02v2.2M319.89,246.32l1.6,1.6M319.89,247.92l1.6,-1.6M321.25,247.12h2.2M322.35,246.02v2.2M321.55,246.32l1.6,1.6M321.55,247.92l1.6,-1.6M322.91,247.12h2.2M324.01,246.02v2.2M323.21,246.32l1.6,1.6M323.21,247.92l1.6,-1.6M324.56,247.11h2.2M325.66,246.01v2.2M324.86,246.31l1.6,1.6M324.86,247.91l1.6,-1.6M326.22,247.11h2.2M327.32,246.01v2.2M326.52,246.31l1.6,1.6M326.52,247.91l1.6,-1.6M327.88,247.11h2.2M328.98,246.01v2.2M328.18,246.31l1.6,1.6M328.18,247.91l1.6,-1.6M329.54,247.11h2.2M330.64,246.01v2.2M329.84,246.31l1.6,1.6M329.84,247.91l1.6,-1.6M331.19,247.10h2.2M332.29,246.00v2.2M331.49,246.30l1.6,1.6M331.49,247.90l1.6,-1.6" stroke="#f22242" stroke-width="0.8" fill="none"/>
</g>
<path d="M41.4,263.4V32.4M329.5,32.4V263.4M40.9,263.4H330.0" fill="none" stroke="#222" stroke-width="1.1"/>
<path d="M40.9,32.4H330.0" fill="none" stroke="#444" stroke-width="1.2"/>
<path d="M41.00,263.4v4.2M41.00,32.4v4.2M69.88,263.4v2.5M69.88,32.4v2.5M98.75,263.4v4.2M98.75,32.4v4.2M127.62,263.4v2.5M127.62,32.4v2.5M156.50,263.4v4.2M156.50,32.4v4.2M185.38,263.4v2.5M185.38,32.4v2.5M214.25,263.4v4.2M214.25,32.4v4.2M243.12,263.4v2.5M243.12,32.4v2.5M272.00,263.4v4.2M272.00,32.4v4.2M300.88,263.4v2.5M300.88,32.4v2.5M329.75,263.4v4.2M329.75,32.4v4.2M41.4,263.30h-4.5M329.5,263.30h-4.5M41.4,245.54h-2.5M329.5,245.54h-2.5M41.4,227.78h-4.5M329.5,227.78h-4.5M41.4,210.02h-2.5M329.5,210.02h-2.5M41.4,192.26h-4.5M329.5,192.26h-4.5M41.4,174.50h-2.5M329.5,174.50h-2.5M41.4,156.74h-4.5M329.5,156.74h-4.5M41.4,138.98h-2.5M329.5,138.98h-2.5M41.4,121.22h-4.5M329.5,121.22h-4.5M41.4,103.46h-2.5M329.5,103.46h-2.5M41.4,85.70h-4.5M329.5,85.70h-4.5M41.4,67.94h-2.5M329.5,67.94h-2.5M41.4,50.18h-4.5M329.5,50.18h-4.5M41.4,32.42h-2.5M329.5,32.42h-2.5" stroke="#222" stroke-width="1.1"/>
<text transform="translate(41.00,279.4) scale(1,1.07)" font-size="12" text-anchor="middle">0</text>
<text transform="translate(98.75,279.4) scale(1,1.07)" font-size="12" text-anchor="middle">1</text>
<text transform="translate(156.50,279.4) scale(1,1.07)" font-size="12" text-anchor="middle">2</text>
<text transform="translate(214.25,279.4) scale(1,1.07)" font-size="12" text-anchor="middle">3</text>
<text transform="translate(272.00,279.4) scale(1,1.07)" font-size="12" text-anchor="middle">4</text>
<text transform="translate(329.75,279.4) scale(1,1.07)" font-size="12" text-anchor="middle">5</text>
<text transform="translate(34.1,265.50) scale(1,1.08)" font-size="12" text-anchor="end">0</text>
<text transform="translate(34.1,229.98) scale(1,1.08)" font-size="12" text-anchor="end">2</text>
<text transform="translate(34.1,194.46) scale(1,1.08)" font-size="12" text-anchor="end">4</text>
<text transform="translate(34.1,158.94) scale(1,1.08)" font-size="12" text-anchor="end">6</text>
<text transform="translate(34.1,123.42) scale(1,1.08)" font-size="12" text-anchor="end">8</text>
<text transform="translate(33.8,88.00) scale(0.84,1.08)" font-size="12" text-anchor="end">10</text>
<text transform="translate(33.8,52.48) scale(0.84,1.08)" font-size="12" text-anchor="end">12</text>
<text x="104.5" y="299.8" font-size="13.6" textLength="163" lengthAdjust="spacingAndGlyphs">Frequency thickness <tspan font-style="italic">fl</tspan> (MHz mm)</text>
<text transform="translate(10.8,166.2) rotate(-90)" font-size="14.2">c/c</text><text transform="translate(16.1,150.3) rotate(-90)" font-size="7.5">t</text>
<rect x="40.4" y="1.2" width="151.6" height="29.2" fill="#fff" stroke="#777" stroke-width="1"/>
<rect x="56.2" y="7.6" width="2.1" height="2.1" fill="#000"/>
<path d="M55.9,24.3h3.4M57.6,22.6v3.4M56.4,23.1l2.4,2.4M56.4,25.5l2.4,-2.4" stroke="#e05a7a" stroke-width="0.8"/>
<text transform="translate(79.2,12.9) scale(1,1.08)" font-size="12" textLength="78" lengthAdjust="spacingAndGlyphs">Symmetric modes</text>
<text transform="translate(75.6,27.8) scale(1,1.08)" font-size="12" textLength="105" lengthAdjust="spacingAndGlyphs">Antisymmetric modes</text>
<text transform="translate(73.65,222.2) scale(1,1.03)" font-size="12">S</text><text transform="translate(80.65,226.3) scale(1,1.1)" font-size="7.5">0</text>
<text transform="translate(51.3,244.9) scale(1,1.03)" font-size="12">A</text><text transform="translate(59.3,248.6) scale(1,1.1)" font-size="7.5">0</text>
<text transform="translate(140.85,176.3) scale(1,1.03)" font-size="12">A</text><text transform="translate(148.15,180.7) scale(1,1.1)" font-size="7.5">1</text>
<text transform="translate(213.9,175.8) scale(1,1.03)" font-size="12">S</text><text transform="translate(219.4,180.7) scale(1,1.1)" font-size="7.5">1</text>
<text transform="translate(253.0,154.7) scale(1,1.03)" font-size="12">S</text><text transform="translate(260.15,160.0) scale(1,1.1)" font-size="7.5">2</text>
<text transform="translate(287.6,93.3) scale(1,1.03)" font-size="12">A</text><text transform="translate(295.5,97.7) scale(1,1.1)" font-size="7.5">2</text>
</svg>
</body></html>
